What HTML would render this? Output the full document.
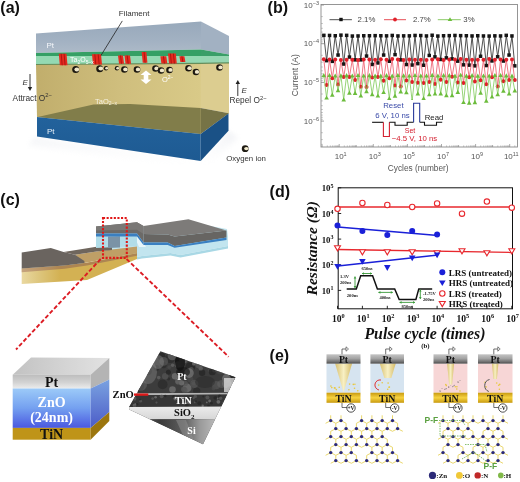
<!DOCTYPE html>
<html><head><meta charset="utf-8"><style>
html,body{margin:0;padding:0;background:#fff;}
svg{display:block;}
</style></head><body>
<svg width="520" height="482" viewBox="0 0 520 482">
<defs>
<linearGradient id="ptTop" x1="0" y1="0" x2="0" y2="1"><stop offset="0" stop-color="#98a9bb"/><stop offset="0.6" stop-color="#a2b1c2"/><stop offset="1" stop-color="#adbac8"/></linearGradient>
<linearGradient id="tanG" x1="36" y1="0" x2="201" y2="0" gradientUnits="userSpaceOnUse"><stop offset="0" stop-color="#c1ae6c"/><stop offset="0.5" stop-color="#cfbe7d"/><stop offset="1" stop-color="#d9ca88"/></linearGradient>
<linearGradient id="ptBot" x1="0" y1="0" x2="0" y2="1"><stop offset="0" stop-color="#22629c"/><stop offset="1" stop-color="#1e5a92"/></linearGradient>
<linearGradient id="shd" x1="0" y1="0" x2="0" y2="1"><stop offset="0" stop-color="#d8dce4"/><stop offset="1" stop-color="#ffffff" stop-opacity="0"/></linearGradient>
<linearGradient id="cubeTop" x1="0" y1="0" x2="1" y2="0"><stop offset="0" stop-color="#c2c2c2"/><stop offset="0.6" stop-color="#d6d6d6"/><stop offset="1" stop-color="#e2e2e2"/></linearGradient>
<linearGradient id="cubePt" x1="0" y1="0" x2="0" y2="1"><stop offset="0" stop-color="#bdbdbd"/><stop offset="0.55" stop-color="#d2d2d2"/><stop offset="1" stop-color="#ececec"/></linearGradient>
<linearGradient id="cubeZnO" x1="0" y1="0" x2="0" y2="1"><stop offset="0" stop-color="#9ccaf8"/><stop offset="0.5" stop-color="#74a0f0"/><stop offset="1" stop-color="#4a58e0"/></linearGradient>
<linearGradient id="cubeR" x1="0" y1="0" x2="0" y2="1"><stop offset="0" stop-color="#7aa2e0"/><stop offset="1" stop-color="#4c5cc8"/></linearGradient>
<linearGradient id="sio2" x1="0" y1="0" x2="0" y2="1"><stop offset="0" stop-color="#ececec"/><stop offset="1" stop-color="#d6d6d6"/></linearGradient>
<linearGradient id="siG" x1="140" y1="0" x2="220" y2="0" gradientUnits="userSpaceOnUse"><stop offset="0" stop-color="#5a5a5a"/><stop offset="0.25" stop-color="#3a3a3a"/><stop offset="0.55" stop-color="#5e5e5e"/><stop offset="0.75" stop-color="#9a9a9a"/><stop offset="1" stop-color="#c2c2c2"/></linearGradient>
<linearGradient id="ptbar" x1="0" y1="0" x2="0" y2="1"><stop offset="0" stop-color="#c4c4c4"/><stop offset="0.45" stop-color="#a4a4a4"/><stop offset="0.85" stop-color="#6a6a6a"/><stop offset="1" stop-color="#444"/></linearGradient>
<linearGradient id="tinbar" x1="0" y1="0" x2="0" y2="1"><stop offset="0" stop-color="#c89a10"/><stop offset="0.5" stop-color="#f6d240"/><stop offset="1" stop-color="#c89a10"/></linearGradient>
<linearGradient id="cone" x1="0" y1="0" x2="1" y2="0"><stop offset="0" stop-color="#d8c070"/><stop offset="0.5" stop-color="#f8f0c4"/><stop offset="1" stop-color="#d4ba66"/></linearGradient>
<linearGradient id="tanC" x1="21" y1="0" x2="60" y2="0" gradientUnits="userSpaceOnUse"><stop offset="0" stop-color="#ead9a2"/><stop offset="0.5" stop-color="#dcc47a"/><stop offset="1" stop-color="#d3b153"/></linearGradient>
<linearGradient id="brownC" x1="21" y1="0" x2="60" y2="0" gradientUnits="userSpaceOnUse"><stop offset="0" stop-color="#c6a47e"/><stop offset="1" stop-color="#ad8552"/></linearGradient>
<filter id="blur2" x="-20%" y="-50%" width="140%" height="200%"><feGaussianBlur stdDeviation="2.5"/></filter>
</defs>
<rect width="520" height="482" fill="#ffffff"/>
<polygon points="34,137 200,161 229,131 238,138 205,170 28,146" fill="url(#shd)" opacity="0.4" filter="url(#blur2)"/>
<polygon points="36.0,33.5 201.0,21.5 201.0,49.5 36.0,53.0" fill="url(#ptTop)" />
<polygon points="36.0,53.0 201.0,49.5 201.0,56.0 36.0,56.0" fill="#35a065" />
<polygon points="36.0,56.0 201.0,56.0 201.0,63.4 36.0,64.5" fill="#94d9b2" />
<polygon points="36.0,64.5 201.0,63.4 201.0,134.0 37.0,117.0" fill="url(#tanG)" />
<polygon points="37.7,117.1 93.5,104.6 130.0,104.0 200.7,108.0 200.7,134.0" fill="#817d4a" />
<polygon points="37.0,117.1 200.7,134.0 200.7,160.9 37.0,136.5" fill="url(#ptBot)" />
<polygon points="201.0,21.5 229.0,36.0 229.0,54.6 201.0,49.5" fill="#a2b1c2" />
<polygon points="201.0,49.5 229.0,54.6 229.0,56.0 201.0,56.0" fill="#3a9e68" />
<polygon points="201.0,56.0 229.0,56.0 229.0,62.9 201.0,63.4" fill="#96d6b2" />
<polygon points="200.7,63.4 229.0,62.9 229.0,113.2 200.7,108.0" fill="#dccd90" />
<polygon points="200.7,108.0 229.0,113.2 200.7,134.0" fill="#767346" />
<polygon points="200.7,134.0 228.5,113.4 228.5,130.8 200.7,160.9" fill="#1a5186" />
<polyline points="36,64.5 201,63.4 229,62.9" fill="none" stroke="#4d7a45" stroke-width="1.2" opacity="0.8"/>
<polygon points="58.8,53.8 66.5,53.8 67.5,65.3 59.8,65.3" fill="#e52a1f"/>
<line x1="61.2" y1="53.8" x2="62.2" y2="65.3" stroke="#a81410" stroke-width="0.9"/>
<line x1="64.1" y1="53.8" x2="65.1" y2="65.3" stroke="#a81410" stroke-width="0.9"/>
<polygon points="92.0,54.3 101.0,54.3 102.0,64.5 93.0,64.5" fill="#e52a1f"/>
<line x1="94.8" y1="54.3" x2="95.8" y2="64.5" stroke="#a81410" stroke-width="0.9"/>
<line x1="98.2" y1="54.3" x2="99.2" y2="64.5" stroke="#a81410" stroke-width="0.9"/>
<polygon points="118.0,55.4 123.0,55.4 124.0,63.8 119.0,63.8" fill="#e52a1f"/>
<line x1="120.5" y1="55.4" x2="121.5" y2="63.8" stroke="#a81410" stroke-width="0.9"/>
<polygon points="124.5,55.4 130.0,55.4 131.0,63.8 125.5,63.8" fill="#e52a1f"/>
<line x1="127.2" y1="55.4" x2="128.2" y2="63.8" stroke="#a81410" stroke-width="0.9"/>
<polygon points="141.7,51.9 146.4,51.9 147.4,62.8 142.7,62.8" fill="#e52a1f"/>
<line x1="144.1" y1="51.9" x2="145.1" y2="62.8" stroke="#a81410" stroke-width="0.9"/>
<polygon points="160.4,56.2 166.3,56.2 167.3,63.5 161.4,63.5" fill="#e52a1f"/>
<line x1="163.4" y1="56.2" x2="164.4" y2="63.5" stroke="#a81410" stroke-width="0.9"/>
<polygon points="168.0,53.6 175.8,53.6 176.8,63.5 169.0,63.5" fill="#e52a1f"/>
<line x1="170.4" y1="53.6" x2="171.4" y2="63.5" stroke="#a81410" stroke-width="0.9"/>
<line x1="173.4" y1="53.6" x2="174.4" y2="63.5" stroke="#a81410" stroke-width="0.9"/>
<polygon points="179.4,56.2 184.4,56.2 185.4,62.0 180.4,62.0" fill="#e52a1f"/>
<line x1="181.9" y1="56.2" x2="182.9" y2="62.0" stroke="#a81410" stroke-width="0.9"/>
<circle cx="75.7" cy="69.6" r="3.5" fill="#1c1810"/>
<ellipse cx="76.8" cy="69.5" rx="2.4" ry="2.0" fill="#efe6c8"/>
<circle cx="99.7" cy="68.7" r="3.5" fill="#1c1810"/>
<ellipse cx="100.8" cy="68.6" rx="2.4" ry="2.0" fill="#efe6c8"/>
<circle cx="106.0" cy="68.3" r="2.2" fill="#1c1810"/>
<ellipse cx="106.7" cy="68.2" rx="1.5" ry="1.3" fill="#efe6c8"/>
<circle cx="117.0" cy="68.3" r="2.2" fill="#1c1810"/>
<ellipse cx="117.7" cy="68.2" rx="1.5" ry="1.3" fill="#efe6c8"/>
<circle cx="124.4" cy="69.5" r="3.3" fill="#1c1810"/>
<ellipse cx="125.4" cy="69.4" rx="2.2" ry="1.9" fill="#efe6c8"/>
<circle cx="137.0" cy="69.5" r="3.3" fill="#1c1810"/>
<ellipse cx="138.0" cy="69.4" rx="2.2" ry="1.9" fill="#efe6c8"/>
<circle cx="155.5" cy="68.5" r="3.3" fill="#1c1810"/>
<ellipse cx="156.5" cy="68.4" rx="2.2" ry="1.9" fill="#efe6c8"/>
<circle cx="161.0" cy="70.5" r="3.3" fill="#1c1810"/>
<ellipse cx="162.0" cy="70.4" rx="2.2" ry="1.9" fill="#efe6c8"/>
<circle cx="169.5" cy="70.0" r="3.3" fill="#1c1810"/>
<ellipse cx="170.5" cy="69.9" rx="2.2" ry="1.9" fill="#efe6c8"/>
<circle cx="188.5" cy="68.3" r="3.3" fill="#1c1810"/>
<ellipse cx="189.5" cy="68.2" rx="2.2" ry="1.9" fill="#efe6c8"/>
<circle cx="196.0" cy="72.0" r="3.3" fill="#1c1810"/>
<ellipse cx="197.0" cy="71.9" rx="2.2" ry="1.9" fill="#efe6c8"/>
<circle cx="219.5" cy="67.5" r="3.3" fill="#1c1810"/>
<ellipse cx="220.5" cy="67.4" rx="2.2" ry="1.9" fill="#efe6c8"/>
<line x1="122.3" y1="20.9" x2="101" y2="55.4" stroke="#222" stroke-width="0.8"/>
<polygon points="146,70.5 151.5,75 148.3,75 148.3,79.5 151.5,79.5 146,84 140.5,79.5 143.7,79.5 143.7,75 140.5,75" fill="#ffffff"/>
<line x1="30" y1="74" x2="30" y2="88" stroke="#222" stroke-width="0.9"/>
<polygon points="27.8,87 32.2,87 30,91" fill="#222"/>
<line x1="237.8" y1="83" x2="237.8" y2="96" stroke="#222" stroke-width="0.9"/>
<polygon points="235.6,84 240,84 237.8,80" fill="#222"/>
<circle cx="245.2" cy="148.7" r="3.4" fill="#1e1a12"/><ellipse cx="246.3" cy="148.6" rx="2.1" ry="1.6" fill="#f3ecd0"/>
<text x="0.3" y="12.6" font-family="Liberation Sans, sans-serif" font-size="16" font-weight="bold" fill="#111">(a)</text>
<text x="118.8" y="16" font-family="Liberation Sans, sans-serif" font-size="8" fill="#333">Filament</text>
<text x="46.5" y="47.5" font-family="Liberation Sans, sans-serif" font-size="8" fill="#f4f6fa">Pt</text>
<text x="70" y="62" font-family="Liberation Sans, sans-serif" font-size="7" fill="#ffffff">Ta<tspan font-size="5" dy="1.5">2</tspan><tspan dy="-1.5">O</tspan><tspan font-size="5" dy="1.5">5−x</tspan></text>
<text x="95" y="103.5" font-family="Liberation Sans, sans-serif" font-size="7.5" fill="#f4f0e0">TaO<tspan font-size="5" dy="1.5">2−x</tspan></text>
<text x="162" y="82" font-family="Liberation Sans, sans-serif" font-size="7.5" fill="#ffffff">O<tspan font-size="5" dy="-3">2−</tspan></text>
<text x="22.5" y="85" font-family="Liberation Sans, sans-serif" font-size="8" font-style="italic" fill="#333">E</text>
<text x="12.6" y="100.6" font-family="Liberation Sans, sans-serif" font-size="8.3" fill="#333">Attract O<tspan font-size="5.8" dy="-3.2">2−</tspan></text>
<text x="241.5" y="92.5" font-family="Liberation Sans, sans-serif" font-size="8" font-style="italic" fill="#333">E</text>
<text x="229.5" y="103.3" font-family="Liberation Sans, sans-serif" font-size="8.3" fill="#333">Repel O<tspan font-size="5.8" dy="-3.2">2−</tspan></text>
<text x="226.2" y="160.6" font-family="Liberation Sans, sans-serif" font-size="7.85" fill="#333">Oxygen ion</text>
<text x="47" y="133.5" font-family="Liberation Sans, sans-serif" font-size="8" fill="#e8f0f8">Pt</text>
<text x="267.6" y="12.9" font-family="Liberation Sans, sans-serif" font-size="16" font-weight="bold" fill="#111">(b)</text>
<rect x="321.0" y="4.5" width="196.5" height="142.5" fill="none" stroke="#8a8a8a" stroke-width="0.9"/>
<line x1="321" y1="5.0" x2="324" y2="5.0" stroke="#888" stroke-width="0.8"/>
<text x="319" y="7.7" font-family="Liberation Sans, sans-serif" font-size="8" fill="#555" text-anchor="end">10<tspan font-size="5.5" dy="-3">−3</tspan></text>
<line x1="321" y1="16.6" x2="322.8" y2="16.6" stroke="#999" stroke-width="0.6"/>
<line x1="321" y1="23.5" x2="322.8" y2="23.5" stroke="#999" stroke-width="0.6"/>
<line x1="321" y1="28.3" x2="322.8" y2="28.3" stroke="#999" stroke-width="0.6"/>
<line x1="321" y1="32.1" x2="322.8" y2="32.1" stroke="#999" stroke-width="0.6"/>
<line x1="321" y1="35.1" x2="322.8" y2="35.1" stroke="#999" stroke-width="0.6"/>
<line x1="321" y1="37.7" x2="322.8" y2="37.7" stroke="#999" stroke-width="0.6"/>
<line x1="321" y1="39.9" x2="322.8" y2="39.9" stroke="#999" stroke-width="0.6"/>
<line x1="321" y1="41.9" x2="322.8" y2="41.9" stroke="#999" stroke-width="0.6"/>
<line x1="321" y1="43.7" x2="324" y2="43.7" stroke="#888" stroke-width="0.8"/>
<text x="319" y="46.4" font-family="Liberation Sans, sans-serif" font-size="8" fill="#555" text-anchor="end">10<tspan font-size="5.5" dy="-3">−4</tspan></text>
<line x1="321" y1="55.3" x2="322.8" y2="55.3" stroke="#999" stroke-width="0.6"/>
<line x1="321" y1="62.2" x2="322.8" y2="62.2" stroke="#999" stroke-width="0.6"/>
<line x1="321" y1="67.0" x2="322.8" y2="67.0" stroke="#999" stroke-width="0.6"/>
<line x1="321" y1="70.8" x2="322.8" y2="70.8" stroke="#999" stroke-width="0.6"/>
<line x1="321" y1="73.8" x2="322.8" y2="73.8" stroke="#999" stroke-width="0.6"/>
<line x1="321" y1="76.4" x2="322.8" y2="76.4" stroke="#999" stroke-width="0.6"/>
<line x1="321" y1="78.6" x2="322.8" y2="78.6" stroke="#999" stroke-width="0.6"/>
<line x1="321" y1="80.6" x2="322.8" y2="80.6" stroke="#999" stroke-width="0.6"/>
<line x1="321" y1="82.4" x2="324" y2="82.4" stroke="#888" stroke-width="0.8"/>
<text x="319" y="85.1" font-family="Liberation Sans, sans-serif" font-size="8" fill="#555" text-anchor="end">10<tspan font-size="5.5" dy="-3">−5</tspan></text>
<line x1="321" y1="94.0" x2="322.8" y2="94.0" stroke="#999" stroke-width="0.6"/>
<line x1="321" y1="100.9" x2="322.8" y2="100.9" stroke="#999" stroke-width="0.6"/>
<line x1="321" y1="105.7" x2="322.8" y2="105.7" stroke="#999" stroke-width="0.6"/>
<line x1="321" y1="109.5" x2="322.8" y2="109.5" stroke="#999" stroke-width="0.6"/>
<line x1="321" y1="112.5" x2="322.8" y2="112.5" stroke="#999" stroke-width="0.6"/>
<line x1="321" y1="115.1" x2="322.8" y2="115.1" stroke="#999" stroke-width="0.6"/>
<line x1="321" y1="117.3" x2="322.8" y2="117.3" stroke="#999" stroke-width="0.6"/>
<line x1="321" y1="119.3" x2="322.8" y2="119.3" stroke="#999" stroke-width="0.6"/>
<line x1="321" y1="121.1" x2="324" y2="121.1" stroke="#888" stroke-width="0.8"/>
<text x="319" y="123.8" font-family="Liberation Sans, sans-serif" font-size="8" fill="#555" text-anchor="end">10<tspan font-size="5.5" dy="-3">−6</tspan></text>
<line x1="321" y1="132.7" x2="322.8" y2="132.7" stroke="#999" stroke-width="0.6"/>
<line x1="321" y1="139.6" x2="322.8" y2="139.6" stroke="#999" stroke-width="0.6"/>
<line x1="321" y1="144.4" x2="322.8" y2="144.4" stroke="#999" stroke-width="0.6"/>
<line x1="322.1" y1="147" x2="322.1" y2="145" stroke="#888" stroke-width="0.7"/>
<line x1="327.3" y1="147" x2="327.3" y2="145.4" stroke="#999" stroke-width="0.6"/>
<line x1="330.3" y1="147" x2="330.3" y2="145.4" stroke="#999" stroke-width="0.6"/>
<line x1="332.4" y1="147" x2="332.4" y2="145.4" stroke="#999" stroke-width="0.6"/>
<line x1="334.1" y1="147" x2="334.1" y2="145.4" stroke="#999" stroke-width="0.6"/>
<line x1="335.4" y1="147" x2="335.4" y2="145.4" stroke="#999" stroke-width="0.6"/>
<line x1="336.6" y1="147" x2="336.6" y2="145.4" stroke="#999" stroke-width="0.6"/>
<line x1="337.5" y1="147" x2="337.5" y2="145.4" stroke="#999" stroke-width="0.6"/>
<line x1="338.4" y1="147" x2="338.4" y2="145.4" stroke="#999" stroke-width="0.6"/>
<line x1="339.2" y1="147" x2="339.2" y2="144" stroke="#888" stroke-width="0.7"/>
<line x1="344.3" y1="147" x2="344.3" y2="145.4" stroke="#999" stroke-width="0.6"/>
<line x1="347.3" y1="147" x2="347.3" y2="145.4" stroke="#999" stroke-width="0.6"/>
<line x1="349.5" y1="147" x2="349.5" y2="145.4" stroke="#999" stroke-width="0.6"/>
<line x1="351.1" y1="147" x2="351.1" y2="145.4" stroke="#999" stroke-width="0.6"/>
<line x1="352.5" y1="147" x2="352.5" y2="145.4" stroke="#999" stroke-width="0.6"/>
<line x1="353.6" y1="147" x2="353.6" y2="145.4" stroke="#999" stroke-width="0.6"/>
<line x1="354.6" y1="147" x2="354.6" y2="145.4" stroke="#999" stroke-width="0.6"/>
<line x1="355.5" y1="147" x2="355.5" y2="145.4" stroke="#999" stroke-width="0.6"/>
<text x="340.7" y="159.3" font-family="Liberation Sans, sans-serif" font-size="8" fill="#555" text-anchor="middle">10<tspan font-size="5.5" dy="-3">1</tspan></text>
<line x1="356.2" y1="147" x2="356.2" y2="145" stroke="#888" stroke-width="0.7"/>
<line x1="361.4" y1="147" x2="361.4" y2="145.4" stroke="#999" stroke-width="0.6"/>
<line x1="364.4" y1="147" x2="364.4" y2="145.4" stroke="#999" stroke-width="0.6"/>
<line x1="366.5" y1="147" x2="366.5" y2="145.4" stroke="#999" stroke-width="0.6"/>
<line x1="368.2" y1="147" x2="368.2" y2="145.4" stroke="#999" stroke-width="0.6"/>
<line x1="369.5" y1="147" x2="369.5" y2="145.4" stroke="#999" stroke-width="0.6"/>
<line x1="370.7" y1="147" x2="370.7" y2="145.4" stroke="#999" stroke-width="0.6"/>
<line x1="371.6" y1="147" x2="371.6" y2="145.4" stroke="#999" stroke-width="0.6"/>
<line x1="372.5" y1="147" x2="372.5" y2="145.4" stroke="#999" stroke-width="0.6"/>
<line x1="373.3" y1="147" x2="373.3" y2="144" stroke="#888" stroke-width="0.7"/>
<line x1="378.4" y1="147" x2="378.4" y2="145.4" stroke="#999" stroke-width="0.6"/>
<line x1="381.4" y1="147" x2="381.4" y2="145.4" stroke="#999" stroke-width="0.6"/>
<line x1="383.6" y1="147" x2="383.6" y2="145.4" stroke="#999" stroke-width="0.6"/>
<line x1="385.2" y1="147" x2="385.2" y2="145.4" stroke="#999" stroke-width="0.6"/>
<line x1="386.6" y1="147" x2="386.6" y2="145.4" stroke="#999" stroke-width="0.6"/>
<line x1="387.7" y1="147" x2="387.7" y2="145.4" stroke="#999" stroke-width="0.6"/>
<line x1="388.7" y1="147" x2="388.7" y2="145.4" stroke="#999" stroke-width="0.6"/>
<line x1="389.6" y1="147" x2="389.6" y2="145.4" stroke="#999" stroke-width="0.6"/>
<text x="374.8" y="159.3" font-family="Liberation Sans, sans-serif" font-size="8" fill="#555" text-anchor="middle">10<tspan font-size="5.5" dy="-3">3</tspan></text>
<line x1="390.4" y1="147" x2="390.4" y2="145" stroke="#888" stroke-width="0.7"/>
<line x1="395.5" y1="147" x2="395.5" y2="145.4" stroke="#999" stroke-width="0.6"/>
<line x1="398.5" y1="147" x2="398.5" y2="145.4" stroke="#999" stroke-width="0.6"/>
<line x1="400.6" y1="147" x2="400.6" y2="145.4" stroke="#999" stroke-width="0.6"/>
<line x1="402.3" y1="147" x2="402.3" y2="145.4" stroke="#999" stroke-width="0.6"/>
<line x1="403.6" y1="147" x2="403.6" y2="145.4" stroke="#999" stroke-width="0.6"/>
<line x1="404.8" y1="147" x2="404.8" y2="145.4" stroke="#999" stroke-width="0.6"/>
<line x1="405.7" y1="147" x2="405.7" y2="145.4" stroke="#999" stroke-width="0.6"/>
<line x1="406.6" y1="147" x2="406.6" y2="145.4" stroke="#999" stroke-width="0.6"/>
<line x1="407.4" y1="147" x2="407.4" y2="144" stroke="#888" stroke-width="0.7"/>
<line x1="412.5" y1="147" x2="412.5" y2="145.4" stroke="#999" stroke-width="0.6"/>
<line x1="415.5" y1="147" x2="415.5" y2="145.4" stroke="#999" stroke-width="0.6"/>
<line x1="417.7" y1="147" x2="417.7" y2="145.4" stroke="#999" stroke-width="0.6"/>
<line x1="419.3" y1="147" x2="419.3" y2="145.4" stroke="#999" stroke-width="0.6"/>
<line x1="420.7" y1="147" x2="420.7" y2="145.4" stroke="#999" stroke-width="0.6"/>
<line x1="421.8" y1="147" x2="421.8" y2="145.4" stroke="#999" stroke-width="0.6"/>
<line x1="422.8" y1="147" x2="422.8" y2="145.4" stroke="#999" stroke-width="0.6"/>
<line x1="423.7" y1="147" x2="423.7" y2="145.4" stroke="#999" stroke-width="0.6"/>
<text x="408.9" y="159.3" font-family="Liberation Sans, sans-serif" font-size="8" fill="#555" text-anchor="middle">10<tspan font-size="5.5" dy="-3">5</tspan></text>
<line x1="424.4" y1="147" x2="424.4" y2="145" stroke="#888" stroke-width="0.7"/>
<line x1="429.6" y1="147" x2="429.6" y2="145.4" stroke="#999" stroke-width="0.6"/>
<line x1="432.6" y1="147" x2="432.6" y2="145.4" stroke="#999" stroke-width="0.6"/>
<line x1="434.7" y1="147" x2="434.7" y2="145.4" stroke="#999" stroke-width="0.6"/>
<line x1="436.4" y1="147" x2="436.4" y2="145.4" stroke="#999" stroke-width="0.6"/>
<line x1="437.7" y1="147" x2="437.7" y2="145.4" stroke="#999" stroke-width="0.6"/>
<line x1="438.9" y1="147" x2="438.9" y2="145.4" stroke="#999" stroke-width="0.6"/>
<line x1="439.8" y1="147" x2="439.8" y2="145.4" stroke="#999" stroke-width="0.6"/>
<line x1="440.7" y1="147" x2="440.7" y2="145.4" stroke="#999" stroke-width="0.6"/>
<line x1="441.5" y1="147" x2="441.5" y2="144" stroke="#888" stroke-width="0.7"/>
<line x1="446.6" y1="147" x2="446.6" y2="145.4" stroke="#999" stroke-width="0.6"/>
<line x1="449.6" y1="147" x2="449.6" y2="145.4" stroke="#999" stroke-width="0.6"/>
<line x1="451.8" y1="147" x2="451.8" y2="145.4" stroke="#999" stroke-width="0.6"/>
<line x1="453.4" y1="147" x2="453.4" y2="145.4" stroke="#999" stroke-width="0.6"/>
<line x1="454.8" y1="147" x2="454.8" y2="145.4" stroke="#999" stroke-width="0.6"/>
<line x1="455.9" y1="147" x2="455.9" y2="145.4" stroke="#999" stroke-width="0.6"/>
<line x1="456.9" y1="147" x2="456.9" y2="145.4" stroke="#999" stroke-width="0.6"/>
<line x1="457.8" y1="147" x2="457.8" y2="145.4" stroke="#999" stroke-width="0.6"/>
<text x="443.0" y="159.3" font-family="Liberation Sans, sans-serif" font-size="8" fill="#555" text-anchor="middle">10<tspan font-size="5.5" dy="-3">7</tspan></text>
<line x1="458.6" y1="147" x2="458.6" y2="145" stroke="#888" stroke-width="0.7"/>
<line x1="463.7" y1="147" x2="463.7" y2="145.4" stroke="#999" stroke-width="0.6"/>
<line x1="466.7" y1="147" x2="466.7" y2="145.4" stroke="#999" stroke-width="0.6"/>
<line x1="468.8" y1="147" x2="468.8" y2="145.4" stroke="#999" stroke-width="0.6"/>
<line x1="470.5" y1="147" x2="470.5" y2="145.4" stroke="#999" stroke-width="0.6"/>
<line x1="471.8" y1="147" x2="471.8" y2="145.4" stroke="#999" stroke-width="0.6"/>
<line x1="473.0" y1="147" x2="473.0" y2="145.4" stroke="#999" stroke-width="0.6"/>
<line x1="473.9" y1="147" x2="473.9" y2="145.4" stroke="#999" stroke-width="0.6"/>
<line x1="474.8" y1="147" x2="474.8" y2="145.4" stroke="#999" stroke-width="0.6"/>
<line x1="475.6" y1="147" x2="475.6" y2="144" stroke="#888" stroke-width="0.7"/>
<line x1="480.7" y1="147" x2="480.7" y2="145.4" stroke="#999" stroke-width="0.6"/>
<line x1="483.7" y1="147" x2="483.7" y2="145.4" stroke="#999" stroke-width="0.6"/>
<line x1="485.9" y1="147" x2="485.9" y2="145.4" stroke="#999" stroke-width="0.6"/>
<line x1="487.5" y1="147" x2="487.5" y2="145.4" stroke="#999" stroke-width="0.6"/>
<line x1="488.9" y1="147" x2="488.9" y2="145.4" stroke="#999" stroke-width="0.6"/>
<line x1="490.0" y1="147" x2="490.0" y2="145.4" stroke="#999" stroke-width="0.6"/>
<line x1="491.0" y1="147" x2="491.0" y2="145.4" stroke="#999" stroke-width="0.6"/>
<line x1="491.9" y1="147" x2="491.9" y2="145.4" stroke="#999" stroke-width="0.6"/>
<text x="477.1" y="159.3" font-family="Liberation Sans, sans-serif" font-size="8" fill="#555" text-anchor="middle">10<tspan font-size="5.5" dy="-3">9</tspan></text>
<line x1="492.6" y1="147" x2="492.6" y2="145" stroke="#888" stroke-width="0.7"/>
<line x1="497.8" y1="147" x2="497.8" y2="145.4" stroke="#999" stroke-width="0.6"/>
<line x1="500.8" y1="147" x2="500.8" y2="145.4" stroke="#999" stroke-width="0.6"/>
<line x1="502.9" y1="147" x2="502.9" y2="145.4" stroke="#999" stroke-width="0.6"/>
<line x1="504.6" y1="147" x2="504.6" y2="145.4" stroke="#999" stroke-width="0.6"/>
<line x1="505.9" y1="147" x2="505.9" y2="145.4" stroke="#999" stroke-width="0.6"/>
<line x1="507.1" y1="147" x2="507.1" y2="145.4" stroke="#999" stroke-width="0.6"/>
<line x1="508.0" y1="147" x2="508.0" y2="145.4" stroke="#999" stroke-width="0.6"/>
<line x1="508.9" y1="147" x2="508.9" y2="145.4" stroke="#999" stroke-width="0.6"/>
<line x1="509.7" y1="147" x2="509.7" y2="144" stroke="#888" stroke-width="0.7"/>
<line x1="514.8" y1="147" x2="514.8" y2="145.4" stroke="#999" stroke-width="0.6"/>
<text x="511.2" y="159.3" font-family="Liberation Sans, sans-serif" font-size="8" fill="#555" text-anchor="middle">10<tspan font-size="5.5" dy="-3">11</tspan></text>
<text x="418.2" y="170.5" font-family="Liberation Sans, sans-serif" font-size="8.3" fill="#555" text-anchor="middle">Cycles (number)</text>
<text transform="translate(297.6,75.2) rotate(-90)" font-family="Liberation Sans, sans-serif" font-size="8.5" fill="#555" text-anchor="middle">Current (A)</text>
<polyline points="323.8,35.3 326.6,60.7 329.5,35.5 332.3,61.4 335.2,35.7 338.0,55.1 340.9,35.1 343.7,64.1 346.6,35.4 349.4,57.0 352.3,36.1 355.1,59.8 358.0,35.9 360.8,59.9 363.7,35.7 366.5,56.1 369.4,35.7 372.2,64.5 375.1,35.6 377.9,63.0 380.8,35.8 383.6,55.0 386.5,35.9 389.3,61.2 392.2,35.4 395.0,54.7 397.9,36.0 400.7,59.8 403.6,35.8 406.4,64.6 409.3,35.8 412.1,65.1 415.0,35.5 417.8,63.7 420.8,35.5 423.6,65.2 426.5,36.0 429.3,55.4 432.2,35.2 435.0,56.8 437.9,36.1 440.7,59.4 443.6,35.7 446.4,57.8 449.3,35.6 452.1,58.8 455.0,35.5 457.8,61.1 460.7,35.7 463.5,64.9 466.4,35.8 469.2,65.2 472.1,36.0 474.9,65.9 477.8,35.8 480.6,56.2 483.5,36.0 486.3,65.6 489.2,36.0 492.0,61.0 494.9,35.8 497.7,56.8 500.6,35.9 503.4,61.0 506.3,35.4 509.1,55.0 512.0,36.0 514.8,65.9" fill="none" stroke="#333" stroke-width="0.85"/><rect x="322.1" y="33.6" width="3.5" height="3.5" fill="#151515"/><rect x="324.9" y="58.9" width="3.5" height="3.5" fill="#151515"/><rect x="327.8" y="33.7" width="3.5" height="3.5" fill="#151515"/><rect x="330.6" y="59.6" width="3.5" height="3.5" fill="#151515"/><rect x="333.5" y="34.0" width="3.5" height="3.5" fill="#151515"/><rect x="336.3" y="53.3" width="3.5" height="3.5" fill="#151515"/><rect x="339.2" y="33.4" width="3.5" height="3.5" fill="#151515"/><rect x="342.0" y="62.3" width="3.5" height="3.5" fill="#151515"/><rect x="344.9" y="33.6" width="3.5" height="3.5" fill="#151515"/><rect x="347.7" y="55.3" width="3.5" height="3.5" fill="#151515"/><rect x="350.6" y="34.3" width="3.5" height="3.5" fill="#151515"/><rect x="353.4" y="58.1" width="3.5" height="3.5" fill="#151515"/><rect x="356.3" y="34.2" width="3.5" height="3.5" fill="#151515"/><rect x="359.1" y="58.1" width="3.5" height="3.5" fill="#151515"/><rect x="362.0" y="34.0" width="3.5" height="3.5" fill="#151515"/><rect x="364.8" y="54.3" width="3.5" height="3.5" fill="#151515"/><rect x="367.7" y="34.0" width="3.5" height="3.5" fill="#151515"/><rect x="370.5" y="62.7" width="3.5" height="3.5" fill="#151515"/><rect x="373.4" y="33.9" width="3.5" height="3.5" fill="#151515"/><rect x="376.2" y="61.2" width="3.5" height="3.5" fill="#151515"/><rect x="379.1" y="34.0" width="3.5" height="3.5" fill="#151515"/><rect x="381.9" y="53.3" width="3.5" height="3.5" fill="#151515"/><rect x="384.8" y="34.1" width="3.5" height="3.5" fill="#151515"/><rect x="387.6" y="59.5" width="3.5" height="3.5" fill="#151515"/><rect x="390.5" y="33.7" width="3.5" height="3.5" fill="#151515"/><rect x="393.3" y="52.9" width="3.5" height="3.5" fill="#151515"/><rect x="396.2" y="34.2" width="3.5" height="3.5" fill="#151515"/><rect x="399.0" y="58.1" width="3.5" height="3.5" fill="#151515"/><rect x="401.9" y="34.1" width="3.5" height="3.5" fill="#151515"/><rect x="404.7" y="62.8" width="3.5" height="3.5" fill="#151515"/><rect x="407.6" y="34.1" width="3.5" height="3.5" fill="#151515"/><rect x="410.4" y="63.3" width="3.5" height="3.5" fill="#151515"/><rect x="413.3" y="33.7" width="3.5" height="3.5" fill="#151515"/><rect x="416.1" y="61.9" width="3.5" height="3.5" fill="#151515"/><rect x="419.0" y="33.8" width="3.5" height="3.5" fill="#151515"/><rect x="421.8" y="63.5" width="3.5" height="3.5" fill="#151515"/><rect x="424.7" y="34.2" width="3.5" height="3.5" fill="#151515"/><rect x="427.5" y="53.7" width="3.5" height="3.5" fill="#151515"/><rect x="430.4" y="33.5" width="3.5" height="3.5" fill="#151515"/><rect x="433.2" y="55.1" width="3.5" height="3.5" fill="#151515"/><rect x="436.1" y="34.3" width="3.5" height="3.5" fill="#151515"/><rect x="438.9" y="57.7" width="3.5" height="3.5" fill="#151515"/><rect x="441.8" y="34.0" width="3.5" height="3.5" fill="#151515"/><rect x="444.6" y="56.1" width="3.5" height="3.5" fill="#151515"/><rect x="447.5" y="33.9" width="3.5" height="3.5" fill="#151515"/><rect x="450.3" y="57.1" width="3.5" height="3.5" fill="#151515"/><rect x="453.2" y="33.7" width="3.5" height="3.5" fill="#151515"/><rect x="456.0" y="59.4" width="3.5" height="3.5" fill="#151515"/><rect x="458.9" y="33.9" width="3.5" height="3.5" fill="#151515"/><rect x="461.7" y="63.1" width="3.5" height="3.5" fill="#151515"/><rect x="464.6" y="34.0" width="3.5" height="3.5" fill="#151515"/><rect x="467.4" y="63.4" width="3.5" height="3.5" fill="#151515"/><rect x="470.3" y="34.2" width="3.5" height="3.5" fill="#151515"/><rect x="473.1" y="64.1" width="3.5" height="3.5" fill="#151515"/><rect x="476.0" y="34.0" width="3.5" height="3.5" fill="#151515"/><rect x="478.8" y="54.5" width="3.5" height="3.5" fill="#151515"/><rect x="481.7" y="34.2" width="3.5" height="3.5" fill="#151515"/><rect x="484.5" y="63.8" width="3.5" height="3.5" fill="#151515"/><rect x="487.4" y="34.3" width="3.5" height="3.5" fill="#151515"/><rect x="490.2" y="59.2" width="3.5" height="3.5" fill="#151515"/><rect x="493.1" y="34.1" width="3.5" height="3.5" fill="#151515"/><rect x="495.9" y="55.0" width="3.5" height="3.5" fill="#151515"/><rect x="498.8" y="34.2" width="3.5" height="3.5" fill="#151515"/><rect x="501.6" y="59.3" width="3.5" height="3.5" fill="#151515"/><rect x="504.5" y="33.6" width="3.5" height="3.5" fill="#151515"/><rect x="507.3" y="53.3" width="3.5" height="3.5" fill="#151515"/><rect x="510.2" y="34.2" width="3.5" height="3.5" fill="#151515"/><rect x="513.0" y="64.1" width="3.5" height="3.5" fill="#151515"/>
<polyline points="323.8,59.2 326.6,84.9 329.5,59.5 332.3,78.2 335.2,59.4 338.0,84.6 340.9,60.0 343.7,77.1 346.6,59.7 349.4,77.1 352.3,59.8 355.1,80.0 358.0,60.0 360.8,86.8 363.7,59.6 366.5,87.0 369.4,59.4 372.2,77.4 375.1,59.7 377.9,76.9 380.8,59.3 383.6,80.8 386.5,59.7 389.3,78.2 392.2,59.1 395.0,85.6 397.9,59.4 400.7,86.6 403.6,60.0 406.4,80.5 409.3,59.6 412.1,82.0 415.0,59.7 417.8,82.8 420.8,59.7 423.6,83.0 426.5,60.0 429.3,81.9 432.2,59.5 435.0,84.1 437.9,59.3 440.7,79.7 443.6,60.1 446.4,82.0 449.3,59.6 452.1,76.7 455.0,59.5 457.8,82.6 460.7,59.1 463.5,83.0 466.4,59.7 469.2,77.2 472.1,59.7 474.9,81.4 477.8,59.8 480.6,80.3 483.5,59.8 486.3,84.3 489.2,59.1 492.0,77.2 494.9,59.8 497.7,86.6 500.6,59.4 503.4,81.3 506.3,59.7 509.1,79.9 512.0,59.5 514.8,79.9" fill="none" stroke="#ee6070" stroke-width="0.85"/><circle cx="323.8" cy="59.2" r="2.0" fill="#e0202a"/><circle cx="326.6" cy="84.9" r="2.0" fill="#e0202a"/><circle cx="329.5" cy="59.5" r="2.0" fill="#e0202a"/><circle cx="332.3" cy="78.2" r="2.0" fill="#e0202a"/><circle cx="335.2" cy="59.4" r="2.0" fill="#e0202a"/><circle cx="338.0" cy="84.6" r="2.0" fill="#e0202a"/><circle cx="340.9" cy="60.0" r="2.0" fill="#e0202a"/><circle cx="343.7" cy="77.1" r="2.0" fill="#e0202a"/><circle cx="346.6" cy="59.7" r="2.0" fill="#e0202a"/><circle cx="349.4" cy="77.1" r="2.0" fill="#e0202a"/><circle cx="352.3" cy="59.8" r="2.0" fill="#e0202a"/><circle cx="355.1" cy="80.0" r="2.0" fill="#e0202a"/><circle cx="358.0" cy="60.0" r="2.0" fill="#e0202a"/><circle cx="360.8" cy="86.8" r="2.0" fill="#e0202a"/><circle cx="363.7" cy="59.6" r="2.0" fill="#e0202a"/><circle cx="366.5" cy="87.0" r="2.0" fill="#e0202a"/><circle cx="369.4" cy="59.4" r="2.0" fill="#e0202a"/><circle cx="372.2" cy="77.4" r="2.0" fill="#e0202a"/><circle cx="375.1" cy="59.7" r="2.0" fill="#e0202a"/><circle cx="377.9" cy="76.9" r="2.0" fill="#e0202a"/><circle cx="380.8" cy="59.3" r="2.0" fill="#e0202a"/><circle cx="383.6" cy="80.8" r="2.0" fill="#e0202a"/><circle cx="386.5" cy="59.7" r="2.0" fill="#e0202a"/><circle cx="389.3" cy="78.2" r="2.0" fill="#e0202a"/><circle cx="392.2" cy="59.1" r="2.0" fill="#e0202a"/><circle cx="395.0" cy="85.6" r="2.0" fill="#e0202a"/><circle cx="397.9" cy="59.4" r="2.0" fill="#e0202a"/><circle cx="400.7" cy="86.6" r="2.0" fill="#e0202a"/><circle cx="403.6" cy="60.0" r="2.0" fill="#e0202a"/><circle cx="406.4" cy="80.5" r="2.0" fill="#e0202a"/><circle cx="409.3" cy="59.6" r="2.0" fill="#e0202a"/><circle cx="412.1" cy="82.0" r="2.0" fill="#e0202a"/><circle cx="415.0" cy="59.7" r="2.0" fill="#e0202a"/><circle cx="417.8" cy="82.8" r="2.0" fill="#e0202a"/><circle cx="420.8" cy="59.7" r="2.0" fill="#e0202a"/><circle cx="423.6" cy="83.0" r="2.0" fill="#e0202a"/><circle cx="426.5" cy="60.0" r="2.0" fill="#e0202a"/><circle cx="429.3" cy="81.9" r="2.0" fill="#e0202a"/><circle cx="432.2" cy="59.5" r="2.0" fill="#e0202a"/><circle cx="435.0" cy="84.1" r="2.0" fill="#e0202a"/><circle cx="437.9" cy="59.3" r="2.0" fill="#e0202a"/><circle cx="440.7" cy="79.7" r="2.0" fill="#e0202a"/><circle cx="443.6" cy="60.1" r="2.0" fill="#e0202a"/><circle cx="446.4" cy="82.0" r="2.0" fill="#e0202a"/><circle cx="449.3" cy="59.6" r="2.0" fill="#e0202a"/><circle cx="452.1" cy="76.7" r="2.0" fill="#e0202a"/><circle cx="455.0" cy="59.5" r="2.0" fill="#e0202a"/><circle cx="457.8" cy="82.6" r="2.0" fill="#e0202a"/><circle cx="460.7" cy="59.1" r="2.0" fill="#e0202a"/><circle cx="463.5" cy="83.0" r="2.0" fill="#e0202a"/><circle cx="466.4" cy="59.7" r="2.0" fill="#e0202a"/><circle cx="469.2" cy="77.2" r="2.0" fill="#e0202a"/><circle cx="472.1" cy="59.7" r="2.0" fill="#e0202a"/><circle cx="474.9" cy="81.4" r="2.0" fill="#e0202a"/><circle cx="477.8" cy="59.8" r="2.0" fill="#e0202a"/><circle cx="480.6" cy="80.3" r="2.0" fill="#e0202a"/><circle cx="483.5" cy="59.8" r="2.0" fill="#e0202a"/><circle cx="486.3" cy="84.3" r="2.0" fill="#e0202a"/><circle cx="489.2" cy="59.1" r="2.0" fill="#e0202a"/><circle cx="492.0" cy="77.2" r="2.0" fill="#e0202a"/><circle cx="494.9" cy="59.8" r="2.0" fill="#e0202a"/><circle cx="497.7" cy="86.6" r="2.0" fill="#e0202a"/><circle cx="500.6" cy="59.4" r="2.0" fill="#e0202a"/><circle cx="503.4" cy="81.3" r="2.0" fill="#e0202a"/><circle cx="506.3" cy="59.7" r="2.0" fill="#e0202a"/><circle cx="509.1" cy="79.9" r="2.0" fill="#e0202a"/><circle cx="512.0" cy="59.5" r="2.0" fill="#e0202a"/><circle cx="514.8" cy="79.9" r="2.0" fill="#e0202a"/>
<polyline points="323.8,75.4 326.6,97.7 329.5,75.3 332.3,94.9 335.2,75.8 338.0,90.3 340.9,75.6 343.7,99.6 346.6,75.3 349.4,92.9 352.3,75.8 355.1,93.1 358.0,75.2 360.8,95.7 363.7,75.7 366.5,91.3 369.4,75.3 372.2,94.3 375.1,75.8 377.9,95.7 380.8,75.9 383.6,92.2 386.5,75.3 389.3,98.5 392.2,75.9 395.0,95.9 397.9,75.2 400.7,91.6 403.6,75.5 406.4,92.5 409.3,75.8 412.1,100.9 415.0,75.2 417.8,93.6 420.8,75.8 423.6,98.3 426.5,75.8 429.3,94.5 432.2,75.1 435.0,93.8 437.9,75.8 440.7,93.5 443.6,75.3 446.4,95.4 449.3,75.4 452.1,95.3 455.0,75.9 457.8,92.0 460.7,75.0 463.5,102.3 466.4,75.9 469.2,102.8 472.1,75.4 474.9,102.4 477.8,75.9 480.6,92.9 483.5,75.7 486.3,100.9 489.2,75.7 492.0,96.7 494.9,75.3 497.7,94.4 500.6,75.2 503.4,90.9 506.3,75.6 509.1,93.7 512.0,75.8 514.8,90.6" fill="none" stroke="#84cc60" stroke-width="0.85"/><polygon points="323.8,73.1 326.1,77.2 321.5,77.2" fill="#6cbc3c"/><polygon points="326.6,95.4 328.9,99.6 324.3,99.6" fill="#6cbc3c"/><polygon points="329.5,73.0 331.8,77.1 327.2,77.1" fill="#6cbc3c"/><polygon points="332.3,92.6 334.6,96.7 330.0,96.7" fill="#6cbc3c"/><polygon points="335.2,73.5 337.5,77.6 332.9,77.6" fill="#6cbc3c"/><polygon points="338.0,88.0 340.3,92.2 335.7,92.2" fill="#6cbc3c"/><polygon points="340.9,73.3 343.2,77.4 338.6,77.4" fill="#6cbc3c"/><polygon points="343.7,97.3 346.0,101.4 341.4,101.4" fill="#6cbc3c"/><polygon points="346.6,73.0 348.9,77.2 344.3,77.2" fill="#6cbc3c"/><polygon points="349.4,90.6 351.7,94.7 347.1,94.7" fill="#6cbc3c"/><polygon points="352.3,73.5 354.6,77.6 350.0,77.6" fill="#6cbc3c"/><polygon points="355.1,90.8 357.4,94.9 352.8,94.9" fill="#6cbc3c"/><polygon points="358.0,72.9 360.3,77.0 355.7,77.0" fill="#6cbc3c"/><polygon points="360.8,93.4 363.1,97.5 358.5,97.5" fill="#6cbc3c"/><polygon points="363.7,73.4 366.0,77.5 361.4,77.5" fill="#6cbc3c"/><polygon points="366.5,89.0 368.8,93.2 364.2,93.2" fill="#6cbc3c"/><polygon points="369.4,73.0 371.7,77.2 367.1,77.2" fill="#6cbc3c"/><polygon points="372.2,92.0 374.5,96.2 369.9,96.2" fill="#6cbc3c"/><polygon points="375.1,73.5 377.4,77.7 372.8,77.7" fill="#6cbc3c"/><polygon points="377.9,93.4 380.2,97.5 375.6,97.5" fill="#6cbc3c"/><polygon points="380.8,73.6 383.1,77.7 378.5,77.7" fill="#6cbc3c"/><polygon points="383.6,89.9 385.9,94.0 381.3,94.0" fill="#6cbc3c"/><polygon points="386.5,73.0 388.8,77.2 384.2,77.2" fill="#6cbc3c"/><polygon points="389.3,96.2 391.6,100.3 387.0,100.3" fill="#6cbc3c"/><polygon points="392.2,73.6 394.5,77.7 389.9,77.7" fill="#6cbc3c"/><polygon points="395.0,93.6 397.3,97.7 392.7,97.7" fill="#6cbc3c"/><polygon points="397.9,72.9 400.2,77.1 395.6,77.1" fill="#6cbc3c"/><polygon points="400.7,89.3 403.0,93.4 398.4,93.4" fill="#6cbc3c"/><polygon points="403.6,73.2 405.9,77.4 401.3,77.4" fill="#6cbc3c"/><polygon points="406.4,90.2 408.7,94.3 404.1,94.3" fill="#6cbc3c"/><polygon points="409.3,73.5 411.6,77.6 407.0,77.6" fill="#6cbc3c"/><polygon points="412.1,98.6 414.4,102.7 409.8,102.7" fill="#6cbc3c"/><polygon points="415.0,72.9 417.3,77.0 412.7,77.0" fill="#6cbc3c"/><polygon points="417.8,91.3 420.1,95.5 415.5,95.5" fill="#6cbc3c"/><polygon points="420.8,73.5 423.1,77.6 418.5,77.6" fill="#6cbc3c"/><polygon points="423.6,96.0 425.9,100.2 421.3,100.2" fill="#6cbc3c"/><polygon points="426.5,73.5 428.8,77.6 424.2,77.6" fill="#6cbc3c"/><polygon points="429.3,92.2 431.6,96.3 427.0,96.3" fill="#6cbc3c"/><polygon points="432.2,72.8 434.5,77.0 429.9,77.0" fill="#6cbc3c"/><polygon points="435.0,91.5 437.3,95.6 432.7,95.6" fill="#6cbc3c"/><polygon points="437.9,73.5 440.2,77.6 435.6,77.6" fill="#6cbc3c"/><polygon points="440.7,91.2 443.0,95.4 438.4,95.4" fill="#6cbc3c"/><polygon points="443.6,73.0 445.9,77.2 441.3,77.2" fill="#6cbc3c"/><polygon points="446.4,93.1 448.7,97.3 444.1,97.3" fill="#6cbc3c"/><polygon points="449.3,73.1 451.6,77.3 447.0,77.3" fill="#6cbc3c"/><polygon points="452.1,93.0 454.4,97.2 449.8,97.2" fill="#6cbc3c"/><polygon points="455.0,73.6 457.3,77.8 452.7,77.8" fill="#6cbc3c"/><polygon points="457.8,89.7 460.1,93.9 455.5,93.9" fill="#6cbc3c"/><polygon points="460.7,72.7 463.0,76.8 458.4,76.8" fill="#6cbc3c"/><polygon points="463.5,100.0 465.8,104.1 461.2,104.1" fill="#6cbc3c"/><polygon points="466.4,73.6 468.7,77.7 464.1,77.7" fill="#6cbc3c"/><polygon points="469.2,100.5 471.5,104.7 466.9,104.7" fill="#6cbc3c"/><polygon points="472.1,73.1 474.4,77.3 469.8,77.3" fill="#6cbc3c"/><polygon points="474.9,100.1 477.2,104.2 472.6,104.2" fill="#6cbc3c"/><polygon points="477.8,73.6 480.1,77.8 475.5,77.8" fill="#6cbc3c"/><polygon points="480.6,90.6 482.9,94.7 478.3,94.7" fill="#6cbc3c"/><polygon points="483.5,73.4 485.8,77.6 481.2,77.6" fill="#6cbc3c"/><polygon points="486.3,98.6 488.6,102.7 484.0,102.7" fill="#6cbc3c"/><polygon points="489.2,73.4 491.5,77.5 486.9,77.5" fill="#6cbc3c"/><polygon points="492.0,94.4 494.3,98.6 489.7,98.6" fill="#6cbc3c"/><polygon points="494.9,73.0 497.2,77.1 492.6,77.1" fill="#6cbc3c"/><polygon points="497.7,92.1 500.0,96.3 495.4,96.3" fill="#6cbc3c"/><polygon points="500.6,72.9 502.9,77.1 498.3,77.1" fill="#6cbc3c"/><polygon points="503.4,88.6 505.7,92.7 501.1,92.7" fill="#6cbc3c"/><polygon points="506.3,73.3 508.6,77.4 504.0,77.4" fill="#6cbc3c"/><polygon points="509.1,91.4 511.4,95.6 506.8,95.6" fill="#6cbc3c"/><polygon points="512.0,73.5 514.3,77.7 509.7,77.7" fill="#6cbc3c"/><polygon points="514.8,88.3 517.1,92.4 512.5,92.4" fill="#6cbc3c"/>
<line x1="329.5" y1="19.7" x2="351.9" y2="19.7" stroke="#222" stroke-width="0.8"/><rect x="339.3" y="17.8" width="3.4" height="3.4" fill="#111"/>
<text x="357.6" y="22.4" font-family="Liberation Sans, sans-serif" font-size="7.8" fill="#444">2.1%</text>
<line x1="384" y1="19.7" x2="406" y2="19.7" stroke="#e0202a" stroke-width="0.8"/><circle cx="395" cy="19.5" r="1.9" fill="#e0202a"/>
<text x="413" y="22.4" font-family="Liberation Sans, sans-serif" font-size="7.8" fill="#444">2.7%</text>
<line x1="437.8" y1="19.7" x2="460.8" y2="19.7" stroke="#6cbc3c" stroke-width="0.8"/><polygon points="450,17.3 452.3,21 447.7,21" fill="#6cbc3c"/>
<text x="463.3" y="22.4" font-family="Liberation Sans, sans-serif" font-size="7.8" fill="#444">3%</text>
<rect x="370" y="100" width="75" height="42" fill="#ffffff"/>
<polyline points="372.1,122.3 383.4,122.3" fill="none" stroke="#111" stroke-width="1.1"/>
<polyline points="383.4,122.3 383.4,136.5 389.4,136.5 389.4,122.3" fill="none" stroke="#d42030" stroke-width="1.1"/>
<polyline points="389.4,122.3 395,122.3 395,125.3 407.2,125.3 407.2,122.3 413.6,122.3" fill="none" stroke="#111" stroke-width="1.1"/>
<polyline points="413.6,122.3 413.6,103.3 419.7,103.3 419.7,122.3" fill="none" stroke="#2a3a9a" stroke-width="1.1"/>
<polyline points="419.7,122.3 424.5,122.3 424.5,125.3 436.5,125.3 436.5,122.3 442.2,122.3" fill="none" stroke="#111" stroke-width="1.1"/>
<text x="393.4" y="108" font-family="Liberation Sans, sans-serif" font-size="7.8" fill="#3a4aa8" text-anchor="middle">Reset</text>
<text x="392.5" y="117.8" font-family="Liberation Sans, sans-serif" font-size="7.8" fill="#3a4aa8" text-anchor="middle">6 V, 10 ns</text>
<text x="434" y="120" font-family="Liberation Sans, sans-serif" font-size="7.8" fill="#222" text-anchor="middle">Read</text>
<text x="410" y="133" font-family="Liberation Sans, sans-serif" font-size="7" fill="#d42030" text-anchor="middle">Set</text>
<text x="414.5" y="141.3" font-family="Liberation Sans, sans-serif" font-size="7.8" fill="#d42030" text-anchor="middle">−4.5 V, 10 ns</text>
<text x="0.3" y="204.6" font-family="Liberation Sans, sans-serif" font-size="16" font-weight="bold" fill="#111">(c)</text>
<polygon points="96.0,234.0 188.0,222.0 227.0,229.0 228.0,236.5 228.0,246.0 180.5,255.0 170.4,253.0 142.0,256.0 137.0,257.0 96.0,248.0" fill="#c2e5ef" />
<polygon points="170.4,253.0 180.5,255.0 228.0,246.0 228.0,248.5 180.5,257.5 170.4,255.5 142.0,258.5 137.0,259.5 137.0,257.0 142.0,256.0" fill="#a9d8e5" />
<path d="M129,236 Q136,238 139,247 L146,247 Q142,239 137,236 Z" fill="#e8f6fa"/>
<polygon points="21.7,268.5 64.8,265.4 87.0,262.7 137.0,253.0 137.0,259.0 87.0,280.0 21.7,284.0" fill="url(#tanC)" />
<polygon points="21.7,268.5 64.8,265.4 87.0,262.7 137.0,253.2 137.0,255.8 87.0,265.6 64.8,268.8 21.7,272.2" fill="url(#brownC)" />
<polygon points="75.0,254.8 96.5,251.5 112.0,249.5 137.0,246.5 137.0,253.2 84.4,262.9" fill="#bf9f66" />
<polygon points="63.6,251.9 96.5,246.8 112.0,245.5 112.0,250.0 96.5,251.5 75.0,254.8" fill="#6f665d" />
<polygon points="21.7,252.4 50.8,248.1 63.6,251.9 75.0,254.8 84.4,260.9 84.4,262.9 64.8,265.4 21.7,268.5" fill="#6a645f" />
<polygon points="96.0,236.5 137.0,236.0 137.0,246.0 96.0,248.0" fill="#b2dde8" />
<polygon points="108.0,236.5 120.0,236.3 120.0,247.5 108.0,248.0" fill="#7b93a6" />
<polygon points="96.0,226.5 137.0,222.3 143.5,226.1 143.5,242.5 137.0,233.5 96.0,233.5" fill="#6c6a67" />
<polygon points="96.0,226.5 137.0,222.3 143.5,226.1 143.5,233.9 137.0,229.8 96.0,230.5" fill="#7a7876" />
<polygon points="96.0,233.5 137.0,233.5 143.5,242.5 143.5,245.0 137.0,236.5 96.0,236.5" fill="#3a7fc0" />
<polygon points="143.5,233.9 167.7,234.4 174.6,236.5 226.5,230.4 226.5,237.4 174.6,246.0 167.7,242.5 143.5,242.5" fill="#676562" />
<polygon points="143.5,226.1 188.4,219.2 226.5,230.4 174.6,236.5 167.7,234.4 143.5,233.9" fill="#7d7b79" />
<polygon points="143.5,242.5 167.7,242.5 174.6,246.0 226.5,237.4 226.5,240.0 174.6,247.8 167.7,245.0 143.5,245.0" fill="#3a80c2" />
<rect x="103" y="218" width="23.8" height="39.9" fill="none" stroke="#e01818" stroke-width="2.1" stroke-dasharray="2.1,1.5"/>
<line x1="100.7" y1="259" x2="16" y2="349.5" stroke="#dc1c24" stroke-width="1.9" stroke-dasharray="4.2,2.2"/>
<line x1="126.5" y1="259" x2="228.6" y2="356.7" stroke="#dc1c24" stroke-width="1.9" stroke-dasharray="4.2,2.2"/>
<polygon points="12.7,374.7 90.6,374.7 109.3,357.9 31.0,357.5" fill="url(#cubeTop)" />
<rect x="12.7" y="374.7" width="77.9" height="13.8" fill="url(#cubePt)"/>
<rect x="12.7" y="388.5" width="77.9" height="39.4" fill="url(#cubeZnO)"/>
<rect x="12.7" y="427.9" width="77.9" height="11.8" fill="#bf9418"/>
<polygon points="90.6,374.7 109.3,357.9 109.3,379.6 90.6,388.5" fill="#b4b4b4" />
<polygon points="90.6,388.5 109.3,379.6 109.3,412.0 90.6,427.9" fill="url(#cubeR)" />
<polygon points="90.6,427.9 109.3,412.0 109.3,421.0 90.6,439.7" fill="#9c760e" />
<text x="51.6" y="386.5" font-family="Liberation Serif, serif" font-size="14" font-weight="bold" fill="#111" text-anchor="middle">Pt</text>
<text x="51.6" y="406.8" font-family="Liberation Serif, serif" font-size="14" font-weight="bold" fill="#ffffff" text-anchor="middle">ZnO</text>
<text x="51.6" y="421.8" font-family="Liberation Serif, serif" font-size="14" font-weight="bold" fill="#ffffff" text-anchor="middle">(24nm)</text>
<text x="51.6" y="438.8" font-family="Liberation Serif, serif" font-size="14" font-weight="bold" fill="#111" text-anchor="middle">TiN</text>
<clipPath id="temclip"><polygon points="160.4,351.2 235.4,377.3 203.0,444.2 129.2,409.6 129.2,407.0"/></clipPath>
<g clip-path="url(#temclip)">
<rect x="120" y="345" width="120" height="105" fill="#3c3c3c"/>
<circle cx="161.6" cy="356.5" r="3.8" fill="#222" opacity="0.7"/>
<circle cx="217.8" cy="354.0" r="3.5" fill="#777" opacity="0.7"/>
<circle cx="149.3" cy="353.7" r="3.0" fill="#555" opacity="0.7"/>
<circle cx="135.3" cy="368.3" r="4.4" fill="#222" opacity="0.7"/>
<circle cx="232.1" cy="377.1" r="3.5" fill="#222" opacity="0.7"/>
<circle cx="190.2" cy="367.1" r="4.9" fill="#222" opacity="0.7"/>
<circle cx="187.9" cy="355.7" r="3.0" fill="#777" opacity="0.7"/>
<circle cx="138.3" cy="363.3" r="4.4" fill="#555" opacity="0.7"/>
<circle cx="136.6" cy="374.6" r="2.2" fill="#222" opacity="0.7"/>
<circle cx="186.9" cy="352.7" r="1.7" fill="#555" opacity="0.7"/>
<circle cx="181.1" cy="372.9" r="4.2" fill="#2a2a2a" opacity="0.7"/>
<circle cx="191.2" cy="369.5" r="2.5" fill="#555" opacity="0.7"/>
<circle cx="204.0" cy="360.5" r="3.5" fill="#777" opacity="0.7"/>
<circle cx="180.9" cy="364.8" r="3.1" fill="#777" opacity="0.7"/>
<circle cx="235.8" cy="355.1" r="3.0" fill="#666" opacity="0.7"/>
<circle cx="142.2" cy="371.0" r="1.6" fill="#4a4a4a" opacity="0.7"/>
<circle cx="133.8" cy="374.0" r="4.3" fill="#666" opacity="0.7"/>
<circle cx="163.4" cy="365.1" r="3.2" fill="#2a2a2a" opacity="0.7"/>
<circle cx="132.8" cy="354.0" r="2.4" fill="#4a4a4a" opacity="0.7"/>
<circle cx="200.0" cy="352.6" r="4.0" fill="#4a4a4a" opacity="0.7"/>
<circle cx="190.3" cy="379.3" r="3.1" fill="#4a4a4a" opacity="0.7"/>
<circle cx="168.6" cy="378.8" r="1.6" fill="#2a2a2a" opacity="0.7"/>
<circle cx="165.2" cy="376.3" r="3.2" fill="#555" opacity="0.7"/>
<circle cx="211.8" cy="355.6" r="2.4" fill="#2a2a2a" opacity="0.7"/>
<circle cx="228.6" cy="371.3" r="2.1" fill="#2a2a2a" opacity="0.7"/>
<circle cx="187.1" cy="388.0" r="4.4" fill="#777" opacity="0.7"/>
<circle cx="156.5" cy="367.9" r="2.8" fill="#2a2a2a" opacity="0.7"/>
<circle cx="233.2" cy="356.5" r="2.1" fill="#555" opacity="0.7"/>
<circle cx="199.4" cy="350.5" r="4.4" fill="#555" opacity="0.7"/>
<circle cx="154.7" cy="350.2" r="3.0" fill="#666" opacity="0.7"/>
<circle cx="193.9" cy="363.7" r="1.9" fill="#777" opacity="0.7"/>
<circle cx="232.4" cy="378.2" r="4.1" fill="#2a2a2a" opacity="0.7"/>
<circle cx="226.6" cy="383.5" r="4.6" fill="#777" opacity="0.7"/>
<circle cx="169.3" cy="367.2" r="1.9" fill="#4a4a4a" opacity="0.7"/>
<circle cx="170.3" cy="358.2" r="4.9" fill="#2a2a2a" opacity="0.7"/>
<circle cx="143.3" cy="364.6" r="1.7" fill="#222" opacity="0.7"/>
<circle cx="189.0" cy="373.1" r="4.8" fill="#777" opacity="0.7"/>
<circle cx="127.9" cy="387.6" r="3.6" fill="#555" opacity="0.7"/>
<circle cx="196.7" cy="391.1" r="3.6" fill="#2a2a2a" opacity="0.7"/>
<circle cx="138.9" cy="386.5" r="5.0" fill="#2a2a2a" opacity="0.7"/>
<circle cx="179.3" cy="363.4" r="2.0" fill="#4a4a4a" opacity="0.7"/>
<circle cx="163.7" cy="361.4" r="4.4" fill="#555" opacity="0.7"/>
<circle cx="183.3" cy="358.8" r="4.8" fill="#666" opacity="0.7"/>
<circle cx="141.6" cy="373.4" r="1.6" fill="#777" opacity="0.7"/>
<circle cx="158.7" cy="377.6" r="1.8" fill="#666" opacity="0.7"/>
<circle cx="183.6" cy="389.1" r="2.7" fill="#555" opacity="0.7"/>
<circle cx="185.2" cy="383.5" r="2.7" fill="#555" opacity="0.7"/>
<circle cx="194.3" cy="383.9" r="4.2" fill="#555" opacity="0.7"/>
<circle cx="216.1" cy="385.2" r="4.1" fill="#555" opacity="0.7"/>
<circle cx="147.6" cy="371.2" r="4.1" fill="#222" opacity="0.7"/>
<circle cx="214.3" cy="370.3" r="2.2" fill="#777" opacity="0.7"/>
<circle cx="233.1" cy="369.2" r="4.8" fill="#666" opacity="0.7"/>
<circle cx="232.9" cy="365.7" r="2.3" fill="#555" opacity="0.7"/>
<circle cx="178.1" cy="364.5" r="3.2" fill="#777" opacity="0.7"/>
<circle cx="220.0" cy="370.6" r="3.8" fill="#4a4a4a" opacity="0.7"/>
<circle cx="134.6" cy="378.4" r="4.7" fill="#4a4a4a" opacity="0.7"/>
<circle cx="209.8" cy="370.6" r="2.1" fill="#4a4a4a" opacity="0.7"/>
<circle cx="162.6" cy="384.4" r="4.9" fill="#2a2a2a" opacity="0.7"/>
<circle cx="177.3" cy="382.0" r="1.8" fill="#555" opacity="0.7"/>
<circle cx="144.2" cy="355.5" r="2.0" fill="#2a2a2a" opacity="0.7"/>
<circle cx="216.1" cy="356.3" r="4.4" fill="#2a2a2a" opacity="0.7"/>
<circle cx="199.3" cy="365.1" r="3.4" fill="#555" opacity="0.7"/>
<circle cx="127.4" cy="384.4" r="4.0" fill="#222" opacity="0.7"/>
<circle cx="184.5" cy="390.1" r="3.0" fill="#555" opacity="0.7"/>
<circle cx="218.4" cy="359.1" r="2.4" fill="#666" opacity="0.7"/>
<circle cx="181.6" cy="382.8" r="2.6" fill="#777" opacity="0.7"/>
<circle cx="172.3" cy="355.6" r="4.7" fill="#666" opacity="0.7"/>
<circle cx="226.4" cy="378.5" r="4.4" fill="#777" opacity="0.7"/>
<circle cx="172.5" cy="389.5" r="3.3" fill="#777" opacity="0.7"/>
<circle cx="142.2" cy="372.0" r="4.6" fill="#555" opacity="0.7"/>
<circle cx="193.8" cy="383.4" r="2.0" fill="#555" opacity="0.7"/>
<circle cx="178.5" cy="381.2" r="3.4" fill="#666" opacity="0.7"/>
<circle cx="202.1" cy="372.8" r="3.2" fill="#222" opacity="0.7"/>
<circle cx="224.8" cy="352.4" r="2.2" fill="#222" opacity="0.7"/>
<circle cx="212.3" cy="371.8" r="3.5" fill="#222" opacity="0.7"/>
<circle cx="175.1" cy="376.3" r="3.3" fill="#777" opacity="0.7"/>
<circle cx="147.5" cy="361.9" r="3.3" fill="#2a2a2a" opacity="0.7"/>
<circle cx="182.4" cy="360.6" r="3.3" fill="#666" opacity="0.7"/>
<circle cx="229.3" cy="388.4" r="2.2" fill="#2a2a2a" opacity="0.7"/>
<circle cx="140.5" cy="355.2" r="3.0" fill="#222" opacity="0.7"/>
<circle cx="200.8" cy="368.4" r="2.2" fill="#666" opacity="0.7"/>
<circle cx="213.6" cy="388.6" r="2.0" fill="#4a4a4a" opacity="0.7"/>
<circle cx="197.7" cy="365.7" r="2.4" fill="#555" opacity="0.7"/>
<circle cx="234.3" cy="359.4" r="4.8" fill="#2a2a2a" opacity="0.7"/>
<circle cx="225.0" cy="357.0" r="3.8" fill="#555" opacity="0.7"/>
<circle cx="143.2" cy="368.6" r="3.3" fill="#666" opacity="0.7"/>
<circle cx="172.6" cy="365.3" r="1.8" fill="#666" opacity="0.7"/>
<circle cx="127.2" cy="373.8" r="3.0" fill="#222" opacity="0.7"/>
<circle cx="168.4" cy="372.2" r="2.5" fill="#222" opacity="0.7"/>
<circle cx="137.8" cy="389.5" r="2.3" fill="#222" opacity="0.7"/>
<ellipse cx="148.0" cy="372.0" rx="9.0" ry="12.0" fill="#777" opacity="0.55"/>
<ellipse cx="140.0" cy="385.0" rx="7.0" ry="6.0" fill="#6c6c6c" opacity="0.50"/>
<ellipse cx="158.0" cy="362.0" rx="6.0" ry="7.0" fill="#8a8a8a" opacity="0.45"/>
<ellipse cx="180.0" cy="362.0" rx="5.0" ry="9.0" fill="#0e0e0e" opacity="0.80"/>
<ellipse cx="183.0" cy="372.0" rx="7.0" ry="5.0" fill="#151515" opacity="0.60"/>
<ellipse cx="205.0" cy="382.0" rx="10.0" ry="6.0" fill="#2a2a2a" opacity="0.50"/>
<ellipse cx="222.0" cy="384.0" rx="5.0" ry="4.0" fill="#666" opacity="0.50"/>
<polygon points="120.0,393.4 240.0,392.8 240.0,394.6 120.0,395.2" fill="#b4b4b4" />
<polygon points="120.0,395.2 240.0,394.6 240.0,406.4 120.0,407.0" fill="#363636" />
<circle cx="134.5" cy="398.7" r="1.9" fill="#666" opacity="0.6"/>
<circle cx="155.6" cy="397.3" r="1.3" fill="#888" opacity="0.6"/>
<circle cx="217.5" cy="398.6" r="1.0" fill="#888" opacity="0.6"/>
<circle cx="189.5" cy="403.0" r="0.9" fill="#666" opacity="0.6"/>
<circle cx="215.4" cy="397.8" r="1.9" fill="#222" opacity="0.6"/>
<circle cx="231.0" cy="402.3" r="1.8" fill="#666" opacity="0.6"/>
<circle cx="193.7" cy="398.2" r="1.1" fill="#666" opacity="0.6"/>
<circle cx="176.3" cy="399.4" r="1.5" fill="#222" opacity="0.6"/>
<circle cx="195.3" cy="396.4" r="1.7" fill="#666" opacity="0.6"/>
<circle cx="234.5" cy="398.6" r="1.0" fill="#222" opacity="0.6"/>
<circle cx="196.0" cy="401.3" r="1.0" fill="#222" opacity="0.6"/>
<circle cx="181.5" cy="397.8" r="1.2" fill="#666" opacity="0.6"/>
<circle cx="237.4" cy="396.4" r="0.8" fill="#888" opacity="0.6"/>
<circle cx="187.3" cy="397.9" r="1.4" fill="#222" opacity="0.6"/>
<circle cx="137.0" cy="404.2" r="1.3" fill="#222" opacity="0.6"/>
<circle cx="186.7" cy="404.9" r="2.0" fill="#222" opacity="0.6"/>
<circle cx="202.7" cy="405.8" r="1.2" fill="#888" opacity="0.6"/>
<circle cx="207.4" cy="397.4" r="2.0" fill="#666" opacity="0.6"/>
<circle cx="219.6" cy="396.1" r="1.6" fill="#222" opacity="0.6"/>
<circle cx="173.7" cy="396.6" r="1.6" fill="#222" opacity="0.6"/>
<circle cx="223.4" cy="402.7" r="1.1" fill="#666" opacity="0.6"/>
<circle cx="203.3" cy="396.5" r="1.0" fill="#222" opacity="0.6"/>
<circle cx="175.4" cy="398.6" r="2.0" fill="#888" opacity="0.6"/>
<circle cx="161.6" cy="396.3" r="1.9" fill="#666" opacity="0.6"/>
<circle cx="165.3" cy="396.0" r="1.3" fill="#222" opacity="0.6"/>
<circle cx="156.5" cy="402.6" r="1.1" fill="#666" opacity="0.6"/>
<circle cx="135.3" cy="404.2" r="1.0" fill="#888" opacity="0.6"/>
<circle cx="129.7" cy="396.2" r="1.2" fill="#666" opacity="0.6"/>
<circle cx="134.5" cy="405.6" r="1.8" fill="#666" opacity="0.6"/>
<circle cx="199.3" cy="403.2" r="1.9" fill="#222" opacity="0.6"/>
<circle cx="211.4" cy="403.2" r="1.4" fill="#222" opacity="0.6"/>
<circle cx="206.8" cy="402.4" r="0.9" fill="#888" opacity="0.6"/>
<circle cx="225.8" cy="402.3" r="1.7" fill="#888" opacity="0.6"/>
<circle cx="140.7" cy="401.2" r="1.4" fill="#666" opacity="0.6"/>
<circle cx="218.4" cy="401.8" r="1.9" fill="#888" opacity="0.6"/>
<circle cx="233.0" cy="402.4" r="0.9" fill="#666" opacity="0.6"/>
<circle cx="140.0" cy="399.6" r="0.9" fill="#222" opacity="0.6"/>
<circle cx="188.1" cy="402.3" r="1.6" fill="#888" opacity="0.6"/>
<circle cx="152.6" cy="398.6" r="1.3" fill="#666" opacity="0.6"/>
<circle cx="209.6" cy="401.0" r="1.4" fill="#888" opacity="0.6"/>
<circle cx="184.4" cy="403.5" r="1.4" fill="#666" opacity="0.6"/>
<circle cx="220.6" cy="398.3" r="1.7" fill="#666" opacity="0.6"/>
<circle cx="208.6" cy="405.8" r="1.4" fill="#222" opacity="0.6"/>
<circle cx="133.7" cy="405.1" r="1.1" fill="#666" opacity="0.6"/>
<circle cx="194.7" cy="402.4" r="0.9" fill="#666" opacity="0.6"/>
<polygon points="120.0,407.0 240.0,406.4 240.0,418.9 120.0,419.5" fill="url(#sio2)" />
<polygon points="120.0,419.5 240.0,418.9 240.0,450.0 120.0,450.0" fill="url(#siG)" />
<polygon points="176.0,420.0 186.0,420.0 196.0,446.0 188.0,446.0" fill="#9a9a9a" opacity="0.45"/>
<polygon points="224.0,378.0 236.0,378.0 236.0,392.0 224.0,392.0" fill="#d8d8d8" opacity="0.8"/>
</g>
<text x="182" y="380" font-family="Liberation Serif, serif" font-size="10" font-weight="bold" fill="#ffffff" text-anchor="middle">Pt</text>
<text x="183.3" y="404" font-family="Liberation Serif, serif" font-size="10.5" font-weight="bold" fill="#ffffff" text-anchor="middle">TiN</text>
<text x="184.3" y="416.3" font-family="Liberation Serif, serif" font-size="10.5" font-weight="bold" fill="#111" text-anchor="middle">SiO<tspan font-size="7" dy="2.2">2</tspan></text>
<text x="191.5" y="433.8" font-family="Liberation Serif, serif" font-size="10" font-weight="bold" fill="#ffffff" text-anchor="middle">Si</text>
<text x="112.6" y="397.6" font-family="Liberation Serif, serif" font-size="10.6" font-weight="bold" fill="#111">ZnO</text>
<line x1="134" y1="394.6" x2="148.3" y2="394.6" stroke="#e01818" stroke-width="2.3"/>
<text x="269.6" y="197.1" font-family="Liberation Sans, sans-serif" font-size="16" font-weight="bold" fill="#111">(d)</text>
<rect x="338.2" y="187.8" width="174.3" height="121.0" fill="none" stroke="#111" stroke-width="1"/>
<line x1="338.2" y1="290.4" x2="341.2" y2="290.4" stroke="#111" stroke-width="0.9"/>
<text x="333.5" y="293.9" font-family="Liberation Serif, serif" font-size="8.8" font-weight="bold" fill="#111" text-anchor="end">10<tspan font-size="6" dy="-3.5">1</tspan></text>
<line x1="338.2" y1="264.8" x2="341.2" y2="264.8" stroke="#111" stroke-width="0.9"/>
<text x="333.5" y="268.2" font-family="Liberation Serif, serif" font-size="8.8" font-weight="bold" fill="#111" text-anchor="end">10<tspan font-size="6" dy="-3.5">2</tspan></text>
<line x1="338.2" y1="239.1" x2="341.2" y2="239.1" stroke="#111" stroke-width="0.9"/>
<text x="333.5" y="242.6" font-family="Liberation Serif, serif" font-size="8.8" font-weight="bold" fill="#111" text-anchor="end">10<tspan font-size="6" dy="-3.5">3</tspan></text>
<line x1="338.2" y1="213.5" x2="341.2" y2="213.5" stroke="#111" stroke-width="0.9"/>
<text x="333.5" y="217.0" font-family="Liberation Serif, serif" font-size="8.8" font-weight="bold" fill="#111" text-anchor="end">10<tspan font-size="6" dy="-3.5">4</tspan></text>
<line x1="338.2" y1="187.8" x2="341.2" y2="187.8" stroke="#111" stroke-width="0.9"/>
<text x="333.5" y="191.3" font-family="Liberation Serif, serif" font-size="8.8" font-weight="bold" fill="#111" text-anchor="end">10<tspan font-size="6" dy="-3.5">5</tspan></text>
<line x1="337.5" y1="308.8" x2="337.5" y2="305.8" stroke="#111" stroke-width="0.9"/>
<text x="338.3" y="322" font-family="Liberation Serif, serif" font-size="9.6" font-weight="bold" fill="#111" text-anchor="middle">10<tspan font-size="6.3" dy="-3.8">0</tspan></text>
<line x1="362.4" y1="308.8" x2="362.4" y2="305.8" stroke="#111" stroke-width="0.9"/>
<text x="363.2" y="322" font-family="Liberation Serif, serif" font-size="9.6" font-weight="bold" fill="#111" text-anchor="middle">10<tspan font-size="6.3" dy="-3.8">1</tspan></text>
<line x1="387.3" y1="308.8" x2="387.3" y2="305.8" stroke="#111" stroke-width="0.9"/>
<text x="388.1" y="322" font-family="Liberation Serif, serif" font-size="9.6" font-weight="bold" fill="#111" text-anchor="middle">10<tspan font-size="6.3" dy="-3.8">2</tspan></text>
<line x1="412.2" y1="308.8" x2="412.2" y2="305.8" stroke="#111" stroke-width="0.9"/>
<text x="413.0" y="322" font-family="Liberation Serif, serif" font-size="9.6" font-weight="bold" fill="#111" text-anchor="middle">10<tspan font-size="6.3" dy="-3.8">3</tspan></text>
<line x1="437.1" y1="308.8" x2="437.1" y2="305.8" stroke="#111" stroke-width="0.9"/>
<text x="437.9" y="322" font-family="Liberation Serif, serif" font-size="9.6" font-weight="bold" fill="#111" text-anchor="middle">10<tspan font-size="6.3" dy="-3.8">4</tspan></text>
<line x1="462.0" y1="308.8" x2="462.0" y2="305.8" stroke="#111" stroke-width="0.9"/>
<text x="462.8" y="322" font-family="Liberation Serif, serif" font-size="9.6" font-weight="bold" fill="#111" text-anchor="middle">10<tspan font-size="6.3" dy="-3.8">5</tspan></text>
<line x1="486.9" y1="308.8" x2="486.9" y2="305.8" stroke="#111" stroke-width="0.9"/>
<text x="487.7" y="322" font-family="Liberation Serif, serif" font-size="9.6" font-weight="bold" fill="#111" text-anchor="middle">10<tspan font-size="6.3" dy="-3.8">6</tspan></text>
<line x1="511.8" y1="308.8" x2="511.8" y2="305.8" stroke="#111" stroke-width="0.9"/>
<text x="512.6" y="322" font-family="Liberation Serif, serif" font-size="9.6" font-weight="bold" fill="#111" text-anchor="middle">10<tspan font-size="6.3" dy="-3.8">7</tspan></text>
<text x="425" y="339" font-family="Liberation Serif, serif" font-size="15.8" font-weight="bold" font-style="italic" fill="#111" text-anchor="middle">Pulse cycle (times)</text>
<text transform="translate(317,248.3) rotate(-90)" font-family="Liberation Serif, serif" font-size="15.6" font-weight="bold" font-style="italic" fill="#111" text-anchor="middle">Resistance (Ω)</text>
<line x1="338" y1="207" x2="512" y2="207" stroke="#e8282e" stroke-width="1.3"/>
<line x1="338" y1="249.5" x2="512" y2="252.5" stroke="#e8282e" stroke-width="1.3"/>
<line x1="338" y1="227" x2="438" y2="235.5" stroke="#1a20d8" stroke-width="1.3"/>
<line x1="338" y1="266" x2="438" y2="255" stroke="#1a20d8" stroke-width="1.3"/>
<circle cx="337.5" cy="208.8" r="2.7" fill="#fff" stroke="#e8282e" stroke-width="1.1"/>
<circle cx="362.4" cy="203.0" r="2.7" fill="#fff" stroke="#e8282e" stroke-width="1.1"/>
<circle cx="387.3" cy="205.0" r="2.7" fill="#fff" stroke="#e8282e" stroke-width="1.1"/>
<circle cx="412.2" cy="207.0" r="2.7" fill="#fff" stroke="#e8282e" stroke-width="1.1"/>
<circle cx="437.1" cy="203.4" r="2.7" fill="#fff" stroke="#e8282e" stroke-width="1.1"/>
<circle cx="462.0" cy="213.7" r="2.7" fill="#fff" stroke="#e8282e" stroke-width="1.1"/>
<circle cx="486.9" cy="201.6" r="2.7" fill="#fff" stroke="#e8282e" stroke-width="1.1"/>
<circle cx="511.8" cy="207.7" r="2.7" fill="#fff" stroke="#e8282e" stroke-width="1.1"/>
<polygon points="334.5,245.7 340.5,245.7 337.5,250.8" fill="#fff" stroke="#e8282e" stroke-width="1.1"/>
<polygon points="359.4,249.7 365.4,249.7 362.4,254.8" fill="#fff" stroke="#e8282e" stroke-width="1.1"/>
<polygon points="384.3,249.7 390.3,249.7 387.3,254.8" fill="#fff" stroke="#e8282e" stroke-width="1.1"/>
<polygon points="409.2,249.7 415.2,249.7 412.2,254.8" fill="#fff" stroke="#e8282e" stroke-width="1.1"/>
<polygon points="434.1,250.7 440.1,250.7 437.1,255.8" fill="#fff" stroke="#e8282e" stroke-width="1.1"/>
<polygon points="459.0,248.7 465.0,248.7 462.0,253.8" fill="#fff" stroke="#e8282e" stroke-width="1.1"/>
<polygon points="483.9,250.7 489.9,250.7 486.9,255.8" fill="#fff" stroke="#e8282e" stroke-width="1.1"/>
<polygon points="508.8,248.7 514.8,248.7 511.8,253.8" fill="#fff" stroke="#e8282e" stroke-width="1.1"/>
<circle cx="337.5" cy="225.4" r="3" fill="#1a20d8"/>
<circle cx="362.4" cy="231.0" r="3" fill="#1a20d8"/>
<circle cx="387.3" cy="235.0" r="3" fill="#1a20d8"/>
<circle cx="412.2" cy="231.0" r="3" fill="#1a20d8"/>
<circle cx="437.1" cy="234.5" r="3" fill="#1a20d8"/>
<polygon points="334.2,263.9 340.8,263.9 337.5,269.7" fill="#1a20d8"/>
<polygon points="359.1,258.9 365.7,258.9 362.4,264.7" fill="#1a20d8"/>
<polygon points="384.0,265.1 390.6,265.1 387.3,270.9" fill="#1a20d8"/>
<polygon points="408.9,255.4 415.5,255.4 412.2,261.2" fill="#1a20d8"/>
<polygon points="433.8,252.4 440.4,252.4 437.1,258.2" fill="#1a20d8"/>
<circle cx="442.3" cy="272.3" r="3" fill="#1a20d8"/>
<polygon points="439,280.4 445.6,280.4 442.3,286" fill="#1a20d8"/>
<circle cx="442.3" cy="293.5" r="2.7" fill="#fff" stroke="#e8282e" stroke-width="1.1"/>
<polygon points="439.3,301.5 445.3,301.5 442.3,306.6" fill="#fff" stroke="#e8282e" stroke-width="1.1"/>
<text x="448.8" y="275.5" font-family="Liberation Serif, serif" font-size="9" font-weight="bold" fill="#111">LRS (untreated)</text>
<text x="448.8" y="286.0" font-family="Liberation Serif, serif" font-size="9" font-weight="bold" fill="#111">HRS (untreated)</text>
<text x="448.8" y="296.5" font-family="Liberation Serif, serif" font-size="9" font-weight="bold" fill="#111">LRS (treated)</text>
<text x="448.8" y="307.0" font-family="Liberation Serif, serif" font-size="9" font-weight="bold" fill="#111">HRS (treated)</text>
<polyline points="346.7,288.9 356.3,288.9 360.7,275.8 372.6,275.8 377.4,288.9 394.7,288.9 399.2,299.5 415.9,299.5 418.8,288.9 432.2,288.9" fill="none" stroke="#111" stroke-width="1.5"/>
<line x1="362.0" y1="273.5" x2="372.0" y2="273.5" stroke="#3a9a3a" stroke-width="0.9"/><polygon points="362.0,273.5 364.0,272.2 364.0,274.8" fill="#3a9a3a"/><polygon points="372.0,273.5 370.0,272.2 370.0,274.8" fill="#3a9a3a"/>
<line x1="378.4" y1="292.4" x2="392.8" y2="292.4" stroke="#3a9a3a" stroke-width="0.9"/><polygon points="378.4,292.4 380.4,291.1 380.4,293.7" fill="#3a9a3a"/><polygon points="392.8,292.4 390.8,291.1 390.8,293.7" fill="#3a9a3a"/>
<line x1="399.5" y1="302.4" x2="415.0" y2="302.4" stroke="#3a9a3a" stroke-width="0.9"/><polygon points="399.5,302.4 401.5,301.1 401.5,303.7" fill="#3a9a3a"/><polygon points="415.0,302.4 413.0,301.1 413.0,303.7" fill="#3a9a3a"/>
<line x1="355.0" y1="276.5" x2="355.0" y2="288.0" stroke="#3a9a3a" stroke-width="0.9"/><polygon points="355.0,276.5 353.7,278.5 356.3,278.5" fill="#3a9a3a"/><polygon points="355.0,288.0 353.7,286.0 356.3,286.0" fill="#3a9a3a"/>
<line x1="420.3" y1="289.5" x2="420.3" y2="299.0" stroke="#3a9a3a" stroke-width="0.9"/><polygon points="420.3,289.5 419.0,291.5 421.6,291.5" fill="#3a9a3a"/><polygon points="420.3,299.0 419.0,297.0 421.6,297.0" fill="#3a9a3a"/>
<text x="367" y="269.5" font-family="Liberation Serif, serif" font-size="4.6" font-weight="bold" fill="#222" text-anchor="middle">650ns</text>
<text x="340" y="278" font-family="Liberation Serif, serif" font-size="4.6" font-weight="bold" fill="#222">1.3V</text>
<text x="340" y="284" font-family="Liberation Serif, serif" font-size="4.6" font-weight="bold" fill="#222">200ns</text>
<text x="352.4" y="296.5" font-family="Liberation Serif, serif" font-size="4.6" font-weight="bold" fill="#222" text-anchor="middle">200ns</text>
<text x="385" y="299" font-family="Liberation Serif, serif" font-size="4.6" font-weight="bold" fill="#222" text-anchor="middle">400ns</text>
<text x="407" y="308" font-family="Liberation Serif, serif" font-size="4.6" font-weight="bold" fill="#222" text-anchor="middle">850ns</text>
<text x="423" y="294.5" font-family="Liberation Serif, serif" font-size="4.6" font-weight="bold" fill="#222">-1.75V</text>
<text x="423" y="300.5" font-family="Liberation Serif, serif" font-size="4.6" font-weight="bold" fill="#222">200ns</text>
<text x="269.6" y="361" font-family="Liberation Sans, sans-serif" font-size="16" font-weight="bold" fill="#111">(e)</text>
<rect x="326.5" y="363.6" width="34.0" height="29.1" fill="#d6e4f0"/>
<polygon points="335.1,363.6 352.1,363.6 343.6,392.5" fill="url(#cone)"/>
<rect x="326.5" y="354.3" width="34.0" height="9.3" fill="url(#ptbar)"/>
<rect x="326.5" y="392.7" width="34.0" height="10.1" fill="url(#tinbar)"/>
<text x="343.5" y="363" font-family="Liberation Serif, serif" font-size="9.8" font-weight="bold" fill="#111" text-anchor="middle">Pt</text>
<text x="343.5" y="401.6" font-family="Liberation Serif, serif" font-size="9.8" font-weight="bold" fill="#111" text-anchor="middle">TiN</text>
<polyline points="342.0,354.3 342.0,349 346.0,349" fill="none" stroke="#333" stroke-width="0.7"/>
<polygon points="346.0,346.8 348.5,349 346.0,351.2" fill="none" stroke="#333" stroke-width="0.6"/>
<polyline points="342.0,402.8 342.0,407.5 347.0,407.5" fill="none" stroke="#333" stroke-width="0.7"/>
<circle cx="351.0" cy="408" r="4.2" fill="#fff" stroke="#222" stroke-width="0.8"/>
<text x="351.0" y="410.3" font-family="Liberation Serif, serif" font-size="5.5" font-weight="bold" fill="#111" text-anchor="middle">+V</text>
<rect x="370.4" y="363.6" width="33.6" height="29.1" fill="#d6e4f0"/>
<polygon points="379.8,363.6 395.8,363.6 391.3,378.0 384.3,378.0" fill="url(#cone)"/>
<rect x="370.4" y="354.3" width="33.6" height="9.3" fill="url(#ptbar)"/>
<rect x="370.4" y="392.7" width="33.6" height="10.1" fill="url(#tinbar)"/>
<text x="387.2" y="363" font-family="Liberation Serif, serif" font-size="9.8" font-weight="bold" fill="#111" text-anchor="middle">Pt</text>
<text x="387.2" y="401.6" font-family="Liberation Serif, serif" font-size="9.8" font-weight="bold" fill="#111" text-anchor="middle">TiN</text>
<polyline points="385.7,354.3 385.7,349 389.7,349" fill="none" stroke="#333" stroke-width="0.7"/>
<polygon points="389.7,346.8 392.2,349 389.7,351.2" fill="none" stroke="#333" stroke-width="0.6"/>
<polyline points="385.7,402.8 385.7,407.5 390.7,407.5" fill="none" stroke="#333" stroke-width="0.7"/>
<circle cx="394.7" cy="408" r="4.2" fill="#fff" stroke="#222" stroke-width="0.8"/>
<text x="394.7" y="410.3" font-family="Liberation Serif, serif" font-size="5.5" font-weight="bold" fill="#111" text-anchor="middle">-V</text>
<rect x="433.5" y="363.6" width="33.9" height="29.1" fill="#f7d6d6"/>
<polygon points="447.1,363.6 454.1,363.6 452.1,384.5 449.1,384.5" fill="url(#cone)"/>
<rect x="433.5" y="354.3" width="33.9" height="9.3" fill="url(#ptbar)"/>
<rect x="433.5" y="392.7" width="33.9" height="10.1" fill="url(#tinbar)"/>
<text x="450.4" y="363" font-family="Liberation Serif, serif" font-size="9.8" font-weight="bold" fill="#111" text-anchor="middle">Pt</text>
<text x="450.4" y="401.6" font-family="Liberation Serif, serif" font-size="9.8" font-weight="bold" fill="#111" text-anchor="middle">TiN</text>
<polyline points="448.9,354.3 448.9,349 452.9,349" fill="none" stroke="#333" stroke-width="0.7"/>
<polygon points="452.9,346.8 455.4,349 452.9,351.2" fill="none" stroke="#333" stroke-width="0.6"/>
<polyline points="448.9,402.8 448.9,407.5 453.9,407.5" fill="none" stroke="#333" stroke-width="0.7"/>
<circle cx="457.9" cy="408" r="4.2" fill="#fff" stroke="#222" stroke-width="0.8"/>
<text x="457.9" y="410.3" font-family="Liberation Serif, serif" font-size="5.5" font-weight="bold" fill="#111" text-anchor="middle">+V</text>
<rect x="478.0" y="363.6" width="34.5" height="29.1" fill="#f7d6d6"/>
<polygon points="491.9,363.6 498.4,363.6 496.9,379.0 493.4,379.0" fill="url(#cone)"/>
<rect x="478.0" y="354.3" width="34.5" height="9.3" fill="url(#ptbar)"/>
<rect x="478.0" y="392.7" width="34.5" height="10.1" fill="url(#tinbar)"/>
<text x="495.2" y="363" font-family="Liberation Serif, serif" font-size="9.8" font-weight="bold" fill="#111" text-anchor="middle">Pt</text>
<text x="495.2" y="401.6" font-family="Liberation Serif, serif" font-size="9.8" font-weight="bold" fill="#111" text-anchor="middle">TiN</text>
<polyline points="493.8,354.3 493.8,349 497.8,349" fill="none" stroke="#333" stroke-width="0.7"/>
<polygon points="497.8,346.8 500.2,349 497.8,351.2" fill="none" stroke="#333" stroke-width="0.6"/>
<polyline points="493.8,402.8 493.8,407.5 498.8,407.5" fill="none" stroke="#333" stroke-width="0.7"/>
<circle cx="502.8" cy="408" r="4.2" fill="#fff" stroke="#222" stroke-width="0.8"/>
<text x="502.8" y="410.3" font-family="Liberation Serif, serif" font-size="5.5" font-weight="bold" fill="#111" text-anchor="middle">-V</text>
<circle cx="334.5" cy="387.9" r="0.8" fill="#e8c840"/>
<circle cx="339.2" cy="387.3" r="0.8" fill="#e8c840"/>
<circle cx="335.1" cy="388.1" r="0.8" fill="#e8c840"/>
<circle cx="331.8" cy="387.6" r="0.8" fill="#e8c840"/>
<circle cx="336.3" cy="389.6" r="0.8" fill="#e8c840"/>
<circle cx="330.9" cy="386.1" r="0.8" fill="#e8c840"/>
<circle cx="348.9" cy="389.7" r="0.8" fill="#e8c840"/>
<circle cx="354.9" cy="384.3" r="0.8" fill="#e8c840"/>
<circle cx="357.8" cy="390.8" r="0.8" fill="#e8c840"/>
<circle cx="354.5" cy="388.3" r="0.8" fill="#e8c840"/>
<circle cx="349.6" cy="384.1" r="0.8" fill="#e8c840"/>
<circle cx="353.3" cy="384.4" r="0.8" fill="#e8c840"/>
<circle cx="382.2" cy="382.7" r="0.8" fill="#e8c840"/>
<circle cx="378.7" cy="385.1" r="0.8" fill="#e8c840"/>
<circle cx="387.7" cy="389.3" r="0.8" fill="#e8c840"/>
<circle cx="389.4" cy="387.0" r="0.8" fill="#e8c840"/>
<circle cx="389.0" cy="387.3" r="0.8" fill="#e8c840"/>
<circle cx="388.1" cy="383.1" r="0.8" fill="#e8c840"/>
<circle cx="460.0" cy="391.0" r="0.8" fill="#e8c840"/>
<circle cx="456.8" cy="389.0" r="0.8" fill="#e8c840"/>
<circle cx="446.3" cy="385.6" r="0.8" fill="#e8c840"/>
<circle cx="445.8" cy="384.5" r="0.8" fill="#e8c840"/>
<circle cx="455.3" cy="386.8" r="0.8" fill="#e8c840"/>
<circle cx="456.9" cy="386.7" r="0.8" fill="#e8c840"/>
<circle cx="499.4" cy="389.3" r="0.8" fill="#e8c840"/>
<circle cx="485.0" cy="382.3" r="0.8" fill="#e8c840"/>
<circle cx="498.7" cy="385.2" r="0.8" fill="#e8c840"/>
<circle cx="499.7" cy="384.4" r="0.8" fill="#e8c840"/>
<circle cx="486.1" cy="386.9" r="0.8" fill="#e8c840"/>
<circle cx="496.7" cy="383.0" r="0.8" fill="#e8c840"/>
<path d="M381,380 A5,5 0 0 0 379,390" fill="none" stroke="#e02020" stroke-width="0.9"/>
<path d="M489.5,379.5 A6.3,6.3 0 0 0 488.8,391.5" fill="none" stroke="#555" stroke-width="1"/>
<text x="457.5" y="383" font-family="Liberation Serif, serif" font-size="4.2" fill="#444">e<tspan font-size="3" dy="-1.5">−</tspan></text>
<text x="448" y="388" font-family="Liberation Serif, serif" font-size="4.2" fill="#444">e<tspan font-size="3" dy="-1.5">−</tspan></text>
<text x="439.5" y="391.5" font-family="Liberation Serif, serif" font-size="4.2" fill="#444">e<tspan font-size="3" dy="-1.5">−</tspan></text>
<path d="M444,389.5 L447,388.5 M452,387 L455,385" stroke="#666" stroke-width="0.6" fill="none"/>
<text x="425.4" y="347.6" font-family="Liberation Serif, serif" font-size="6.8" font-weight="bold" fill="#111" text-anchor="middle">(b)</text>
<g stroke="#e8d460" stroke-width="0.9"><line x1="330.7" y1="420.6" x2="330.7" y2="415.3"/><line x1="330.7" y1="420.6" x2="325.6" y2="423.3"/><line x1="330.7" y1="420.6" x2="335.8" y2="423.3"/><line x1="341.0" y1="420.6" x2="341.0" y2="415.3"/><line x1="341.0" y1="420.6" x2="335.9" y2="423.3"/><line x1="341.0" y1="420.6" x2="346.1" y2="423.3"/><line x1="361.6" y1="420.6" x2="361.6" y2="415.3"/><line x1="361.6" y1="420.6" x2="356.4" y2="423.3"/><line x1="361.6" y1="420.6" x2="366.7" y2="423.3"/><line x1="371.9" y1="420.6" x2="371.9" y2="415.3"/><line x1="371.9" y1="420.6" x2="366.8" y2="423.3"/><line x1="371.9" y1="420.6" x2="377.0" y2="423.3"/><line x1="382.2" y1="420.6" x2="382.2" y2="415.3"/><line x1="382.2" y1="420.6" x2="377.1" y2="423.3"/><line x1="382.2" y1="420.6" x2="387.3" y2="423.3"/><line x1="392.5" y1="420.6" x2="392.5" y2="415.3"/><line x1="392.5" y1="420.6" x2="387.4" y2="423.3"/><line x1="392.5" y1="420.6" x2="397.6" y2="423.3"/><line x1="335.8" y1="428.6" x2="335.8" y2="423.3"/><line x1="335.8" y1="428.6" x2="330.7" y2="431.3"/><line x1="335.8" y1="428.6" x2="341.0" y2="431.3"/><line x1="346.1" y1="428.6" x2="346.1" y2="423.3"/><line x1="346.1" y1="428.6" x2="341.0" y2="431.3"/><line x1="346.1" y1="428.6" x2="351.3" y2="431.3"/><line x1="356.4" y1="428.6" x2="356.4" y2="423.3"/><line x1="356.4" y1="428.6" x2="351.3" y2="431.3"/><line x1="356.4" y1="428.6" x2="361.6" y2="431.3"/><line x1="366.7" y1="428.6" x2="366.7" y2="423.3"/><line x1="366.7" y1="428.6" x2="361.6" y2="431.3"/><line x1="366.7" y1="428.6" x2="371.9" y2="431.3"/><line x1="377.0" y1="428.6" x2="377.0" y2="423.3"/><line x1="377.0" y1="428.6" x2="371.9" y2="431.3"/><line x1="377.0" y1="428.6" x2="382.2" y2="431.3"/><line x1="387.3" y1="428.6" x2="387.3" y2="423.3"/><line x1="387.3" y1="428.6" x2="382.2" y2="431.3"/><line x1="387.3" y1="428.6" x2="392.5" y2="431.3"/><line x1="397.6" y1="428.6" x2="397.6" y2="423.3"/><line x1="397.6" y1="428.6" x2="392.5" y2="431.3"/><line x1="397.6" y1="428.6" x2="402.8" y2="431.3"/><line x1="330.7" y1="436.6" x2="330.7" y2="431.3"/><line x1="330.7" y1="436.6" x2="325.6" y2="439.3"/><line x1="330.7" y1="436.6" x2="335.8" y2="439.3"/><line x1="341.0" y1="436.6" x2="341.0" y2="431.3"/><line x1="341.0" y1="436.6" x2="335.9" y2="439.3"/><line x1="341.0" y1="436.6" x2="346.1" y2="439.3"/><line x1="351.3" y1="436.6" x2="351.3" y2="431.3"/><line x1="351.3" y1="436.6" x2="346.2" y2="439.3"/><line x1="351.3" y1="436.6" x2="356.4" y2="439.3"/><line x1="361.6" y1="436.6" x2="361.6" y2="431.3"/><line x1="361.6" y1="436.6" x2="356.4" y2="439.3"/><line x1="361.6" y1="436.6" x2="366.7" y2="439.3"/><line x1="371.9" y1="436.6" x2="371.9" y2="431.3"/><line x1="371.9" y1="436.6" x2="366.8" y2="439.3"/><line x1="371.9" y1="436.6" x2="377.0" y2="439.3"/><line x1="382.2" y1="436.6" x2="382.2" y2="431.3"/><line x1="382.2" y1="436.6" x2="377.1" y2="439.3"/><line x1="382.2" y1="436.6" x2="387.3" y2="439.3"/><line x1="335.8" y1="444.6" x2="335.8" y2="439.3"/><line x1="335.8" y1="444.6" x2="330.7" y2="447.3"/><line x1="335.8" y1="444.6" x2="341.0" y2="447.3"/><line x1="346.1" y1="444.6" x2="346.1" y2="439.3"/><line x1="346.1" y1="444.6" x2="341.0" y2="447.3"/><line x1="346.1" y1="444.6" x2="351.3" y2="447.3"/><line x1="356.4" y1="444.6" x2="356.4" y2="439.3"/><line x1="356.4" y1="444.6" x2="351.3" y2="447.3"/><line x1="356.4" y1="444.6" x2="361.6" y2="447.3"/><line x1="366.7" y1="444.6" x2="366.7" y2="439.3"/><line x1="366.7" y1="444.6" x2="361.6" y2="447.3"/><line x1="366.7" y1="444.6" x2="371.9" y2="447.3"/><line x1="377.0" y1="444.6" x2="377.0" y2="439.3"/><line x1="377.0" y1="444.6" x2="371.9" y2="447.3"/><line x1="377.0" y1="444.6" x2="382.2" y2="447.3"/><line x1="387.3" y1="444.6" x2="387.3" y2="439.3"/><line x1="387.3" y1="444.6" x2="382.2" y2="447.3"/><line x1="387.3" y1="444.6" x2="392.5" y2="447.3"/><line x1="330.7" y1="452.6" x2="330.7" y2="447.3"/><line x1="330.7" y1="452.6" x2="325.6" y2="455.3"/><line x1="330.7" y1="452.6" x2="335.8" y2="455.3"/><line x1="341.0" y1="452.6" x2="341.0" y2="447.3"/><line x1="341.0" y1="452.6" x2="335.9" y2="455.3"/><line x1="341.0" y1="452.6" x2="346.1" y2="455.3"/><line x1="351.3" y1="452.6" x2="351.3" y2="447.3"/><line x1="351.3" y1="452.6" x2="346.2" y2="455.3"/><line x1="351.3" y1="452.6" x2="356.4" y2="455.3"/><line x1="371.9" y1="452.6" x2="371.9" y2="447.3"/><line x1="371.9" y1="452.6" x2="366.8" y2="455.3"/><line x1="371.9" y1="452.6" x2="377.0" y2="455.3"/><line x1="382.2" y1="452.6" x2="382.2" y2="447.3"/><line x1="382.2" y1="452.6" x2="377.1" y2="455.3"/><line x1="382.2" y1="452.6" x2="387.3" y2="455.3"/><line x1="392.5" y1="452.6" x2="392.5" y2="447.3"/><line x1="392.5" y1="452.6" x2="387.4" y2="455.3"/><line x1="392.5" y1="452.6" x2="397.6" y2="455.3"/><line x1="335.8" y1="460.6" x2="335.8" y2="455.3"/><line x1="335.8" y1="460.6" x2="330.7" y2="463.3"/><line x1="335.8" y1="460.6" x2="341.0" y2="463.3"/><line x1="346.1" y1="460.6" x2="346.1" y2="455.3"/><line x1="346.1" y1="460.6" x2="341.0" y2="463.3"/><line x1="346.1" y1="460.6" x2="351.3" y2="463.3"/><line x1="356.4" y1="460.6" x2="356.4" y2="455.3"/><line x1="356.4" y1="460.6" x2="351.3" y2="463.3"/><line x1="356.4" y1="460.6" x2="361.6" y2="463.3"/><line x1="366.7" y1="460.6" x2="366.7" y2="455.3"/><line x1="366.7" y1="460.6" x2="361.6" y2="463.3"/><line x1="366.7" y1="460.6" x2="371.9" y2="463.3"/><line x1="377.0" y1="460.6" x2="377.0" y2="455.3"/><line x1="377.0" y1="460.6" x2="371.9" y2="463.3"/><line x1="377.0" y1="460.6" x2="382.2" y2="463.3"/><line x1="387.3" y1="460.6" x2="387.3" y2="455.3"/><line x1="387.3" y1="460.6" x2="382.2" y2="463.3"/><line x1="387.3" y1="460.6" x2="392.5" y2="463.3"/><line x1="397.6" y1="460.6" x2="397.6" y2="455.3"/><line x1="397.6" y1="460.6" x2="392.5" y2="463.3"/><line x1="397.6" y1="460.6" x2="402.8" y2="463.3"/></g>
<circle cx="330.7" cy="420.6" r="1.7" fill="#2c2a7a"/><circle cx="341.0" cy="420.6" r="1.7" fill="#2c2a7a"/><circle cx="361.6" cy="420.6" r="1.7" fill="#2c2a7a"/><circle cx="371.9" cy="420.6" r="1.7" fill="#2c2a7a"/><circle cx="382.2" cy="420.6" r="1.7" fill="#2c2a7a"/><circle cx="392.5" cy="420.6" r="1.7" fill="#2c2a7a"/><circle cx="335.8" cy="428.6" r="1.7" fill="#2c2a7a"/><circle cx="346.1" cy="428.6" r="1.7" fill="#2c2a7a"/><circle cx="356.4" cy="428.6" r="1.7" fill="#2c2a7a"/><circle cx="366.7" cy="428.6" r="1.7" fill="#2c2a7a"/><circle cx="377.0" cy="428.6" r="1.7" fill="#2c2a7a"/><circle cx="387.3" cy="428.6" r="1.7" fill="#2c2a7a"/><circle cx="397.6" cy="428.6" r="1.7" fill="#2c2a7a"/><circle cx="330.7" cy="436.6" r="1.7" fill="#2c2a7a"/><circle cx="341.0" cy="436.6" r="1.7" fill="#2c2a7a"/><circle cx="351.3" cy="436.6" r="1.7" fill="#2c2a7a"/><circle cx="361.6" cy="436.6" r="1.7" fill="#2c2a7a"/><circle cx="371.9" cy="436.6" r="1.7" fill="#2c2a7a"/><circle cx="382.2" cy="436.6" r="1.7" fill="#2c2a7a"/><circle cx="335.8" cy="444.6" r="1.7" fill="#2c2a7a"/><circle cx="346.1" cy="444.6" r="1.7" fill="#2c2a7a"/><circle cx="356.4" cy="444.6" r="1.7" fill="#2c2a7a"/><circle cx="366.7" cy="444.6" r="1.7" fill="#2c2a7a"/><circle cx="377.0" cy="444.6" r="1.7" fill="#2c2a7a"/><circle cx="387.3" cy="444.6" r="1.7" fill="#2c2a7a"/><circle cx="330.7" cy="452.6" r="1.7" fill="#2c2a7a"/><circle cx="341.0" cy="452.6" r="1.7" fill="#2c2a7a"/><circle cx="351.3" cy="452.6" r="1.7" fill="#2c2a7a"/><circle cx="371.9" cy="452.6" r="1.7" fill="#2c2a7a"/><circle cx="382.2" cy="452.6" r="1.7" fill="#2c2a7a"/><circle cx="392.5" cy="452.6" r="1.7" fill="#2c2a7a"/><circle cx="335.8" cy="460.6" r="1.7" fill="#2c2a7a"/><circle cx="346.1" cy="460.6" r="1.7" fill="#2c2a7a"/><circle cx="356.4" cy="460.6" r="1.7" fill="#2c2a7a"/><circle cx="366.7" cy="460.6" r="1.7" fill="#2c2a7a"/><circle cx="377.0" cy="460.6" r="1.7" fill="#2c2a7a"/><circle cx="387.3" cy="460.6" r="1.7" fill="#2c2a7a"/><circle cx="397.6" cy="460.6" r="1.7" fill="#2c2a7a"/>
<g stroke="#e8d460" stroke-width="0.9"><line x1="443.0" y1="420.6" x2="443.0" y2="415.3"/><line x1="443.0" y1="420.6" x2="438.0" y2="423.3"/><line x1="443.0" y1="420.6" x2="448.0" y2="423.3"/><line x1="453.0" y1="420.6" x2="453.0" y2="415.3"/><line x1="453.0" y1="420.6" x2="448.0" y2="423.3"/><line x1="453.0" y1="420.6" x2="458.0" y2="423.3"/><line x1="463.0" y1="420.6" x2="463.0" y2="415.3"/><line x1="463.0" y1="420.6" x2="458.0" y2="423.3"/><line x1="463.0" y1="420.6" x2="468.0" y2="423.3"/><line x1="473.0" y1="420.6" x2="473.0" y2="415.3"/><line x1="473.0" y1="420.6" x2="468.0" y2="423.3"/><line x1="473.0" y1="420.6" x2="478.0" y2="423.3"/><line x1="483.0" y1="420.6" x2="483.0" y2="415.3"/><line x1="483.0" y1="420.6" x2="478.0" y2="423.3"/><line x1="483.0" y1="420.6" x2="488.0" y2="423.3"/><line x1="493.0" y1="420.6" x2="493.0" y2="415.3"/><line x1="493.0" y1="420.6" x2="488.0" y2="423.3"/><line x1="493.0" y1="420.6" x2="498.0" y2="423.3"/><line x1="503.0" y1="420.6" x2="503.0" y2="415.3"/><line x1="503.0" y1="420.6" x2="498.0" y2="423.3"/><line x1="503.0" y1="420.6" x2="508.0" y2="423.3"/><line x1="448.0" y1="428.6" x2="448.0" y2="423.3"/><line x1="448.0" y1="428.6" x2="443.0" y2="431.3"/><line x1="448.0" y1="428.6" x2="453.0" y2="431.3"/><line x1="458.0" y1="428.6" x2="458.0" y2="423.3"/><line x1="458.0" y1="428.6" x2="453.0" y2="431.3"/><line x1="458.0" y1="428.6" x2="463.0" y2="431.3"/><line x1="468.0" y1="428.6" x2="468.0" y2="423.3"/><line x1="468.0" y1="428.6" x2="463.0" y2="431.3"/><line x1="468.0" y1="428.6" x2="473.0" y2="431.3"/><line x1="488.0" y1="428.6" x2="488.0" y2="423.3"/><line x1="488.0" y1="428.6" x2="483.0" y2="431.3"/><line x1="488.0" y1="428.6" x2="493.0" y2="431.3"/><line x1="498.0" y1="428.6" x2="498.0" y2="423.3"/><line x1="498.0" y1="428.6" x2="493.0" y2="431.3"/><line x1="498.0" y1="428.6" x2="503.0" y2="431.3"/><line x1="443.0" y1="436.6" x2="443.0" y2="431.3"/><line x1="443.0" y1="436.6" x2="438.0" y2="439.3"/><line x1="443.0" y1="436.6" x2="448.0" y2="439.3"/><line x1="453.0" y1="436.6" x2="453.0" y2="431.3"/><line x1="453.0" y1="436.6" x2="448.0" y2="439.3"/><line x1="453.0" y1="436.6" x2="458.0" y2="439.3"/><line x1="463.0" y1="436.6" x2="463.0" y2="431.3"/><line x1="463.0" y1="436.6" x2="458.0" y2="439.3"/><line x1="463.0" y1="436.6" x2="468.0" y2="439.3"/><line x1="473.0" y1="436.6" x2="473.0" y2="431.3"/><line x1="473.0" y1="436.6" x2="468.0" y2="439.3"/><line x1="473.0" y1="436.6" x2="478.0" y2="439.3"/><line x1="483.0" y1="436.6" x2="483.0" y2="431.3"/><line x1="483.0" y1="436.6" x2="478.0" y2="439.3"/><line x1="483.0" y1="436.6" x2="488.0" y2="439.3"/><line x1="493.0" y1="436.6" x2="493.0" y2="431.3"/><line x1="493.0" y1="436.6" x2="488.0" y2="439.3"/><line x1="493.0" y1="436.6" x2="498.0" y2="439.3"/><line x1="503.0" y1="436.6" x2="503.0" y2="431.3"/><line x1="503.0" y1="436.6" x2="498.0" y2="439.3"/><line x1="503.0" y1="436.6" x2="508.0" y2="439.3"/><line x1="448.0" y1="444.6" x2="448.0" y2="439.3"/><line x1="448.0" y1="444.6" x2="443.0" y2="447.3"/><line x1="448.0" y1="444.6" x2="453.0" y2="447.3"/><line x1="458.0" y1="444.6" x2="458.0" y2="439.3"/><line x1="458.0" y1="444.6" x2="453.0" y2="447.3"/><line x1="458.0" y1="444.6" x2="463.0" y2="447.3"/><line x1="478.0" y1="444.6" x2="478.0" y2="439.3"/><line x1="478.0" y1="444.6" x2="473.0" y2="447.3"/><line x1="478.0" y1="444.6" x2="483.0" y2="447.3"/><line x1="488.0" y1="444.6" x2="488.0" y2="439.3"/><line x1="488.0" y1="444.6" x2="483.0" y2="447.3"/><line x1="488.0" y1="444.6" x2="493.0" y2="447.3"/><line x1="498.0" y1="444.6" x2="498.0" y2="439.3"/><line x1="498.0" y1="444.6" x2="493.0" y2="447.3"/><line x1="498.0" y1="444.6" x2="503.0" y2="447.3"/><line x1="443.0" y1="452.6" x2="443.0" y2="447.3"/><line x1="443.0" y1="452.6" x2="438.0" y2="455.3"/><line x1="443.0" y1="452.6" x2="448.0" y2="455.3"/><line x1="463.0" y1="452.6" x2="463.0" y2="447.3"/><line x1="463.0" y1="452.6" x2="458.0" y2="455.3"/><line x1="463.0" y1="452.6" x2="468.0" y2="455.3"/><line x1="473.0" y1="452.6" x2="473.0" y2="447.3"/><line x1="473.0" y1="452.6" x2="468.0" y2="455.3"/><line x1="473.0" y1="452.6" x2="478.0" y2="455.3"/><line x1="483.0" y1="452.6" x2="483.0" y2="447.3"/><line x1="483.0" y1="452.6" x2="478.0" y2="455.3"/><line x1="483.0" y1="452.6" x2="488.0" y2="455.3"/><line x1="493.0" y1="452.6" x2="493.0" y2="447.3"/><line x1="493.0" y1="452.6" x2="488.0" y2="455.3"/><line x1="493.0" y1="452.6" x2="498.0" y2="455.3"/><line x1="503.0" y1="452.6" x2="503.0" y2="447.3"/><line x1="503.0" y1="452.6" x2="498.0" y2="455.3"/><line x1="503.0" y1="452.6" x2="508.0" y2="455.3"/><line x1="448.0" y1="460.6" x2="448.0" y2="455.3"/><line x1="448.0" y1="460.6" x2="443.0" y2="463.3"/><line x1="448.0" y1="460.6" x2="453.0" y2="463.3"/><line x1="458.0" y1="460.6" x2="458.0" y2="455.3"/><line x1="458.0" y1="460.6" x2="453.0" y2="463.3"/><line x1="458.0" y1="460.6" x2="463.0" y2="463.3"/><line x1="468.0" y1="460.6" x2="468.0" y2="455.3"/><line x1="468.0" y1="460.6" x2="463.0" y2="463.3"/><line x1="468.0" y1="460.6" x2="473.0" y2="463.3"/><line x1="478.0" y1="460.6" x2="478.0" y2="455.3"/><line x1="478.0" y1="460.6" x2="473.0" y2="463.3"/><line x1="478.0" y1="460.6" x2="483.0" y2="463.3"/><line x1="488.0" y1="460.6" x2="488.0" y2="455.3"/><line x1="488.0" y1="460.6" x2="483.0" y2="463.3"/><line x1="488.0" y1="460.6" x2="493.0" y2="463.3"/><line x1="498.0" y1="460.6" x2="498.0" y2="455.3"/><line x1="498.0" y1="460.6" x2="493.0" y2="463.3"/><line x1="498.0" y1="460.6" x2="503.0" y2="463.3"/></g>
<circle cx="443.0" cy="420.6" r="1.7" fill="#2c2a7a"/><circle cx="453.0" cy="420.6" r="1.7" fill="#2c2a7a"/><circle cx="463.0" cy="420.6" r="1.7" fill="#2c2a7a"/><circle cx="473.0" cy="420.6" r="1.7" fill="#2c2a7a"/><circle cx="483.0" cy="420.6" r="1.7" fill="#2c2a7a"/><circle cx="493.0" cy="420.6" r="1.7" fill="#2c2a7a"/><circle cx="503.0" cy="420.6" r="1.7" fill="#2c2a7a"/><circle cx="448.0" cy="428.6" r="1.7" fill="#2c2a7a"/><circle cx="458.0" cy="428.6" r="1.7" fill="#2c2a7a"/><circle cx="468.0" cy="428.6" r="1.7" fill="#2c2a7a"/><circle cx="488.0" cy="428.6" r="1.7" fill="#2c2a7a"/><circle cx="498.0" cy="428.6" r="1.7" fill="#2c2a7a"/><circle cx="443.0" cy="436.6" r="1.7" fill="#2c2a7a"/><circle cx="453.0" cy="436.6" r="1.7" fill="#2c2a7a"/><circle cx="463.0" cy="436.6" r="1.7" fill="#2c2a7a"/><circle cx="473.0" cy="436.6" r="1.7" fill="#2c2a7a"/><circle cx="483.0" cy="436.6" r="1.7" fill="#2c2a7a"/><circle cx="493.0" cy="436.6" r="1.7" fill="#2c2a7a"/><circle cx="503.0" cy="436.6" r="1.7" fill="#2c2a7a"/><circle cx="448.0" cy="444.6" r="1.7" fill="#2c2a7a"/><circle cx="458.0" cy="444.6" r="1.7" fill="#2c2a7a"/><circle cx="478.0" cy="444.6" r="1.7" fill="#2c2a7a"/><circle cx="488.0" cy="444.6" r="1.7" fill="#2c2a7a"/><circle cx="498.0" cy="444.6" r="1.7" fill="#2c2a7a"/><circle cx="443.0" cy="452.6" r="1.7" fill="#2c2a7a"/><circle cx="463.0" cy="452.6" r="1.7" fill="#2c2a7a"/><circle cx="473.0" cy="452.6" r="1.7" fill="#2c2a7a"/><circle cx="483.0" cy="452.6" r="1.7" fill="#2c2a7a"/><circle cx="493.0" cy="452.6" r="1.7" fill="#2c2a7a"/><circle cx="503.0" cy="452.6" r="1.7" fill="#2c2a7a"/><circle cx="448.0" cy="460.6" r="1.7" fill="#2c2a7a"/><circle cx="458.0" cy="460.6" r="1.7" fill="#2c2a7a"/><circle cx="468.0" cy="460.6" r="1.7" fill="#2c2a7a"/><circle cx="478.0" cy="460.6" r="1.7" fill="#2c2a7a"/><circle cx="488.0" cy="460.6" r="1.7" fill="#2c2a7a"/><circle cx="498.0" cy="460.6" r="1.7" fill="#2c2a7a"/>
<polyline points="439,420.5 462,420.5 465,425" fill="none" stroke="#6ab04c" stroke-width="0.8" stroke-dasharray="1.5,1"/>
<polyline points="440,423 440,436 466,436" fill="none" stroke="#6ab04c" stroke-width="0.8" stroke-dasharray="1.5,1"/>
<polyline points="465,444.5 485,444.5 487,452" fill="none" stroke="#6ab04c" stroke-width="0.8" stroke-dasharray="1.5,1"/>
<polyline points="462,459 474,452 486,461" fill="none" stroke="#6ab04c" stroke-width="0.8" stroke-dasharray="1.5,1"/>
<text x="424.5" y="422.8" font-family="Liberation Sans, sans-serif" font-size="8.5" font-weight="bold" fill="#5aa040">P-F</text>
<text x="483.5" y="469" font-family="Liberation Sans, sans-serif" font-size="8.5" font-weight="bold" fill="#5aa040">P-F</text>
<circle cx="432.5" cy="475.4" r="3.6" fill="#2c2a78"/>
<circle cx="459.4" cy="475.4" r="3.4" fill="#f0c838"/>
<circle cx="477.7" cy="475.4" r="3.2" fill="#c02828"/>
<circle cx="500.8" cy="475.4" r="2.8" fill="#80b848"/>
<text x="436.3" y="478" font-family="Liberation Serif, serif" font-size="7" font-weight="bold" fill="#111">:Zn</text>
<text x="462.5" y="478" font-family="Liberation Serif, serif" font-size="7" font-weight="bold" fill="#111">:O</text>
<text x="481" y="478" font-family="Liberation Serif, serif" font-size="7" font-weight="bold" fill="#111">:N</text>
<text x="503.5" y="478" font-family="Liberation Serif, serif" font-size="7" font-weight="bold" fill="#111">:H</text>
</svg>
</body></html>
